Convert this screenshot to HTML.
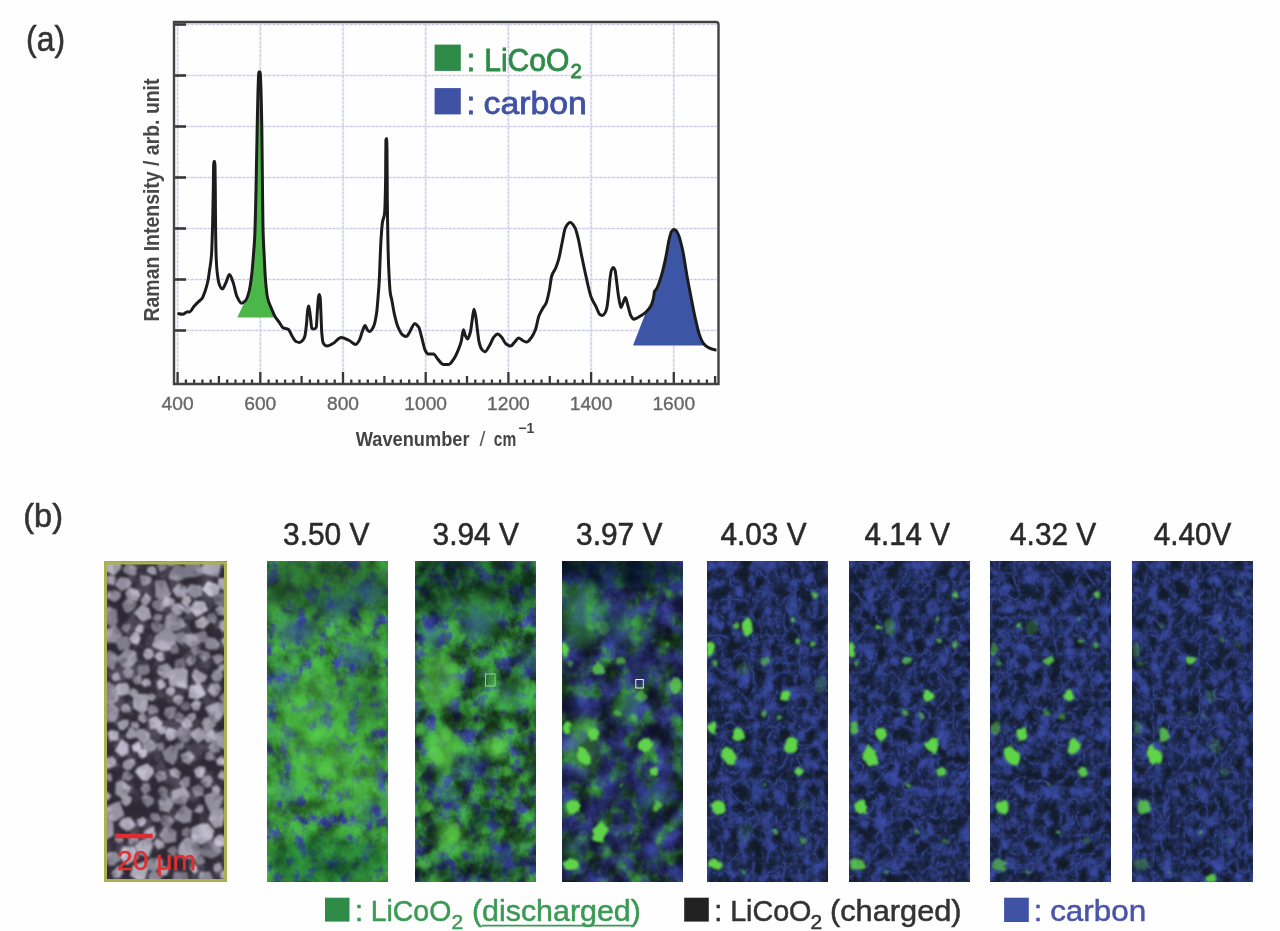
<!DOCTYPE html>
<html><head><meta charset="utf-8"><style>
html,body{margin:0;padding:0;background:#fff;}
svg{display:block;}
text{font-family:"Liberation Sans",sans-serif;}
.volt{font-size:30px;fill:#222;}
</style></head><body>
<svg width="1280" height="931" viewBox="0 0 1280 931">
<defs>
<filter id="f0" x="0" y="0" width="1" height="1" color-interpolation-filters="sRGB">
<feTurbulence type="fractalNoise" baseFrequency="0.075 0.07" numOctaves="4" seed="3" result="a0"/>
<feColorMatrix in="a0" type="matrix" values="1 0 0 0 0  0 1 0 0 0  0 0 1 0 0  0 0 0 0 1" result="a1"/>
<feComponentTransfer in="a1" result="tt"><feFuncR type="table" tableValues="0 0 0.06 0.55 0.93 1 1 1 1"/></feComponentTransfer>
<feColorMatrix in="tt" type="matrix" result="A" values="0.020 0 0 0 0.28  0.460 0 0 0 0.32  -0.500 0 0 0 0.78  0 0 0 0 1"/>
<feTurbulence type="fractalNoise" baseFrequency="0.055 0.05" numOctaves="5" seed="103" result="b0"/>
<feColorMatrix in="b0" type="matrix" values="1 0 0 0 0  0 1 0 0 0  0 0 1 0 0  0 0 0 0 1" result="b1"/>
<feComponentTransfer in="b1" result="vv"><feFuncG type="table" tableValues="0.46 0.46 0.5 0.64 0.77 0.88 0.95 1 1"/></feComponentTransfer>
<feColorMatrix in="vv" type="matrix" result="V" values="0 1 0 0 0  0 1 0 0 0  0 1 0 0 0  0 0 0 0 1"/>
<feComposite in="A" in2="V" operator="arithmetic" k1="1" k2="0" k3="0" k4="0"/>
</filter>
<filter id="f1" x="0" y="0" width="1" height="1" color-interpolation-filters="sRGB">
<feTurbulence type="fractalNoise" baseFrequency="0.08 0.07" numOctaves="4" seed="7" result="a0"/>
<feColorMatrix in="a0" type="matrix" values="1 0 0 0 0  0 1 0 0 0  0 0 1 0 0  0 0 0 0 1" result="a1"/>
<feComponentTransfer in="a1" result="tt"><feFuncR type="table" tableValues="0 0 0.05 0.35 0.85 1 1 1 1"/></feComponentTransfer>
<feColorMatrix in="tt" type="matrix" result="A" values="0.000 0 0 0 0.28  0.440 0 0 0 0.32  -0.480 0 0 0 0.78  0 0 0 0 1"/>
<feTurbulence type="fractalNoise" baseFrequency="0.05 0.045" numOctaves="5" seed="107" result="b0"/>
<feColorMatrix in="b0" type="matrix" values="1 0 0 0 0  0 1 0 0 0  0 0 1 0 0  0 0 0 0 1" result="b1"/>
<feComponentTransfer in="b1" result="vv"><feFuncG type="table" tableValues="0.25 0.25 0.28 0.42 0.62 0.8 0.92 1 1"/></feComponentTransfer>
<feColorMatrix in="vv" type="matrix" result="V" values="0 1 0 0 0  0 1 0 0 0  0 1 0 0 0  0 0 0 0 1"/>
<feComposite in="A" in2="V" operator="arithmetic" k1="1" k2="0" k3="0" k4="0"/>
</filter>
<filter id="f2" x="0" y="0" width="1" height="1" color-interpolation-filters="sRGB">
<feTurbulence type="fractalNoise" baseFrequency="0.07 0.06" numOctaves="4" seed="11" result="a0"/>
<feColorMatrix in="a0" type="matrix" values="1 0 0 0 0  0 1 0 0 0  0 0 1 0 0  0 0 0 0 1" result="a1"/>
<feComponentTransfer in="a1" result="tt"><feFuncR type="table" tableValues="0 0 0 0.02 0.2 0.6 0.9 1 1"/></feComponentTransfer>
<feColorMatrix in="tt" type="matrix" result="A" values="0.000 0 0 0 0.28  0.440 0 0 0 0.32  -0.480 0 0 0 0.78  0 0 0 0 1"/>
<feTurbulence type="fractalNoise" baseFrequency="0.045 0.04" numOctaves="5" seed="111" result="b0"/>
<feColorMatrix in="b0" type="matrix" values="1 0 0 0 0  0 1 0 0 0  0 0 1 0 0  0 0 0 0 1" result="b1"/>
<feComponentTransfer in="b1" result="vv"><feFuncG type="table" tableValues="0.2 0.2 0.22 0.33 0.5 0.68 0.82 0.92 1"/></feComponentTransfer>
<feColorMatrix in="vv" type="matrix" result="V" values="0 1 0 0 0  0 1 0 0 0  0 1 0 0 0  0 0 0 0 1"/>
<feComposite in="A" in2="V" operator="arithmetic" k1="1" k2="0" k3="0" k4="0"/>
</filter>
<filter id="f3" x="0" y="0" width="1" height="1" color-interpolation-filters="sRGB">
<feTurbulence type="turbulence" baseFrequency="0.065 0.055" numOctaves="4" seed="23" result="t0"/>
<feColorMatrix in="t0" type="matrix" values="1 0 0 0 0  0 1 0 0 0  0 0 1 0 0  0 0 0 0 1" result="t1"/>
<feComponentTransfer in="t1" result="T"><feFuncG type="table" tableValues="0.9 0.65 0.42 0.27 0.19 0.16 0.15 0.15 0.15"/></feComponentTransfer>
<feTurbulence type="fractalNoise" baseFrequency="0.08 0.07" numOctaves="4" seed="73" result="f0"/>
<feColorMatrix in="f0" type="matrix" values="1 0 0 0 0  0 1 0 0 0  0 0 1 0 0  0 0 0 0 1" result="f1"/>
<feComponentTransfer in="f1" result="F"><feFuncG type="table" tableValues="0.15 0.15 0.16 0.21 0.4 0.68 0.87 0.95 1"/></feComponentTransfer>
<feBlend in="T" in2="F" mode="lighten" result="V"/>
<feColorMatrix in="V" type="matrix" values="0 0.20 0 0 0.035  0 0.24 0 0 0.065  0 0.62 0 0 0.06  0 0 0 0 1"/>
</filter>
<filter id="f4" x="0" y="0" width="1" height="1" color-interpolation-filters="sRGB">
<feTurbulence type="turbulence" baseFrequency="0.065 0.055" numOctaves="4" seed="24" result="t0"/>
<feColorMatrix in="t0" type="matrix" values="1 0 0 0 0  0 1 0 0 0  0 0 1 0 0  0 0 0 0 1" result="t1"/>
<feComponentTransfer in="t1" result="T"><feFuncG type="table" tableValues="0.9 0.65 0.42 0.27 0.19 0.16 0.15 0.15 0.15"/></feComponentTransfer>
<feTurbulence type="fractalNoise" baseFrequency="0.08 0.07" numOctaves="4" seed="74" result="f0"/>
<feColorMatrix in="f0" type="matrix" values="1 0 0 0 0  0 1 0 0 0  0 0 1 0 0  0 0 0 0 1" result="f1"/>
<feComponentTransfer in="f1" result="F"><feFuncG type="table" tableValues="0.15 0.15 0.16 0.21 0.4 0.68 0.87 0.95 1"/></feComponentTransfer>
<feBlend in="T" in2="F" mode="lighten" result="V"/>
<feColorMatrix in="V" type="matrix" values="0 0.20 0 0 0.035  0 0.24 0 0 0.065  0 0.62 0 0 0.06  0 0 0 0 1"/>
</filter>
<filter id="f5" x="0" y="0" width="1" height="1" color-interpolation-filters="sRGB">
<feTurbulence type="turbulence" baseFrequency="0.065 0.055" numOctaves="4" seed="25" result="t0"/>
<feColorMatrix in="t0" type="matrix" values="1 0 0 0 0  0 1 0 0 0  0 0 1 0 0  0 0 0 0 1" result="t1"/>
<feComponentTransfer in="t1" result="T"><feFuncG type="table" tableValues="0.9 0.65 0.42 0.27 0.19 0.16 0.15 0.15 0.15"/></feComponentTransfer>
<feTurbulence type="fractalNoise" baseFrequency="0.08 0.07" numOctaves="4" seed="75" result="f0"/>
<feColorMatrix in="f0" type="matrix" values="1 0 0 0 0  0 1 0 0 0  0 0 1 0 0  0 0 0 0 1" result="f1"/>
<feComponentTransfer in="f1" result="F"><feFuncG type="table" tableValues="0.15 0.15 0.16 0.21 0.4 0.68 0.87 0.95 1"/></feComponentTransfer>
<feBlend in="T" in2="F" mode="lighten" result="V"/>
<feColorMatrix in="V" type="matrix" values="0 0.20 0 0 0.035  0 0.24 0 0 0.065  0 0.62 0 0 0.06  0 0 0 0 1"/>
</filter>
<filter id="f6" x="0" y="0" width="1" height="1" color-interpolation-filters="sRGB">
<feTurbulence type="turbulence" baseFrequency="0.065 0.055" numOctaves="4" seed="26" result="t0"/>
<feColorMatrix in="t0" type="matrix" values="1 0 0 0 0  0 1 0 0 0  0 0 1 0 0  0 0 0 0 1" result="t1"/>
<feComponentTransfer in="t1" result="T"><feFuncG type="table" tableValues="0.9 0.65 0.42 0.27 0.19 0.16 0.15 0.15 0.15"/></feComponentTransfer>
<feTurbulence type="fractalNoise" baseFrequency="0.08 0.07" numOctaves="4" seed="76" result="f0"/>
<feColorMatrix in="f0" type="matrix" values="1 0 0 0 0  0 1 0 0 0  0 0 1 0 0  0 0 0 0 1" result="f1"/>
<feComponentTransfer in="f1" result="F"><feFuncG type="table" tableValues="0.15 0.15 0.16 0.21 0.4 0.68 0.87 0.95 1"/></feComponentTransfer>
<feBlend in="T" in2="F" mode="lighten" result="V"/>
<feColorMatrix in="V" type="matrix" values="0 0.20 0 0 0.035  0 0.24 0 0 0.065  0 0.62 0 0 0.06  0 0 0 0 1"/>
</filter>
<filter id="fo" x="0" y="0" width="1" height="1" color-interpolation-filters="sRGB">
<feTurbulence type="fractalNoise" baseFrequency="0.055 0.05" numOctaves="3" seed="5" result="n0"/>
<feColorMatrix in="n0" type="matrix" values="1 0 0 0 0  0 1 0 0 0  0 0 1 0 0  0 0 0 0 1" result="n"/>
<feComponentTransfer in="n" result="tv"><feFuncR type="table" tableValues="0 0 0 0 0 0 0 0 0"/><feFuncG type="table" tableValues="0.21 0.21 0.21 0.23 0.32 0.62 0.74 0.8 0.82"/></feComponentTransfer>
<feColorMatrix in="tv" type="matrix" result="A" values="0.000 0 0 0 0.92  0.000 0 0 0 0.88  0.000 0 0 0 1.0  0 0 0 0 1"/>
<feColorMatrix in="tv" type="matrix" result="V" values="0 1 0 0 0  0 1 0 0 0  0 1 0 0 0  0 0 0 0 1"/>
<feComposite in="A" in2="V" operator="arithmetic" k1="1" k2="0" k3="0" k4="0"/>
</filter>
<clipPath id="copt"><rect x="104" y="561.5" width="123" height="320.5"/></clipPath>
<filter id="blur08"><feGaussianBlur stdDeviation="0.9"/></filter>
<filter id="blur5" x="-0.3" y="-0.3" width="1.6" height="1.6"><feGaussianBlur stdDeviation="5"/></filter>
<filter id="blur1" x="-0.1" y="-0.1" width="1.2" height="1.2"><feTurbulence type="fractalNoise" baseFrequency="0.12" numOctaves="2" seed="9" result="dn"/><feDisplacementMap in="SourceGraphic" in2="dn" scale="7" xChannelSelector="R" yChannelSelector="G" result="dd"/><feGaussianBlur in="dd" stdDeviation="1.1"/></filter>
<clipPath id="c0"><rect x="267.3" y="561.5" width="120.5" height="320.5"/></clipPath>
<clipPath id="c1"><rect x="415" y="561.5" width="120.5" height="320.5"/></clipPath>
<clipPath id="c2"><rect x="562" y="561.5" width="120.5" height="320.5"/></clipPath>
<clipPath id="c3"><rect x="707.2" y="561.5" width="120.5" height="320.5"/></clipPath>
<clipPath id="c4"><rect x="849" y="561.5" width="120.5" height="320.5"/></clipPath>
<clipPath id="c5"><rect x="990.5" y="561.5" width="120.5" height="320.5"/></clipPath>
<clipPath id="c6"><rect x="1132.5" y="561.5" width="120.5" height="320.5"/></clipPath>
</defs>
<rect width="1280" height="931" fill="#fefefe"/>
<g stroke="#ececf6" stroke-width="2.2" fill="none">
<line x1="177.6" y1="24" x2="177.6" y2="383" />
<line x1="260.3" y1="24" x2="260.3" y2="383" />
<line x1="343.0" y1="24" x2="343.0" y2="383" />
<line x1="425.7" y1="24" x2="425.7" y2="383" />
<line x1="508.4" y1="24" x2="508.4" y2="383" />
<line x1="591.1" y1="24" x2="591.1" y2="383" />
<line x1="673.8" y1="24" x2="673.8" y2="383" />
<line x1="178" y1="24.5" x2="717" y2="24.5" />
<line x1="178" y1="75.5" x2="717" y2="75.5" />
<line x1="178" y1="126.5" x2="717" y2="126.5" />
<line x1="178" y1="177.5" x2="717" y2="177.5" />
<line x1="178" y1="228.5" x2="717" y2="228.5" />
<line x1="178" y1="279.5" x2="717" y2="279.5" />
<line x1="178" y1="330.5" x2="717" y2="330.5" />
</g>
<g stroke="#c8c8e6" stroke-width="1.1" stroke-dasharray="2.5,1.8" fill="none">
<line x1="177.6" y1="24" x2="177.6" y2="383" />
<line x1="260.3" y1="24" x2="260.3" y2="383" />
<line x1="343.0" y1="24" x2="343.0" y2="383" />
<line x1="425.7" y1="24" x2="425.7" y2="383" />
<line x1="508.4" y1="24" x2="508.4" y2="383" />
<line x1="591.1" y1="24" x2="591.1" y2="383" />
<line x1="673.8" y1="24" x2="673.8" y2="383" />
<line x1="178" y1="24.5" x2="717" y2="24.5" />
<line x1="178" y1="75.5" x2="717" y2="75.5" />
<line x1="178" y1="126.5" x2="717" y2="126.5" />
<line x1="178" y1="177.5" x2="717" y2="177.5" />
<line x1="178" y1="228.5" x2="717" y2="228.5" />
<line x1="178" y1="279.5" x2="717" y2="279.5" />
<line x1="178" y1="330.5" x2="717" y2="330.5" />
</g>
<g stroke="#383838" stroke-width="2.3">
<line x1="177.6" y1="384" x2="177.6" y2="372" />
<line x1="185.9" y1="384" x2="185.9" y2="379.5" />
<line x1="194.1" y1="384" x2="194.1" y2="379.5" />
<line x1="202.4" y1="384" x2="202.4" y2="379.5" />
<line x1="210.7" y1="384" x2="210.7" y2="379.5" />
<line x1="218.9" y1="384" x2="218.9" y2="376" />
<line x1="227.2" y1="384" x2="227.2" y2="379.5" />
<line x1="235.5" y1="384" x2="235.5" y2="379.5" />
<line x1="243.8" y1="384" x2="243.8" y2="379.5" />
<line x1="252.0" y1="384" x2="252.0" y2="379.5" />
<line x1="260.3" y1="384" x2="260.3" y2="372" />
<line x1="268.6" y1="384" x2="268.6" y2="379.5" />
<line x1="276.8" y1="384" x2="276.8" y2="379.5" />
<line x1="285.1" y1="384" x2="285.1" y2="379.5" />
<line x1="293.4" y1="384" x2="293.4" y2="379.5" />
<line x1="301.6" y1="384" x2="301.6" y2="376" />
<line x1="309.9" y1="384" x2="309.9" y2="379.5" />
<line x1="318.2" y1="384" x2="318.2" y2="379.5" />
<line x1="326.5" y1="384" x2="326.5" y2="379.5" />
<line x1="334.7" y1="384" x2="334.7" y2="379.5" />
<line x1="343.0" y1="384" x2="343.0" y2="372" />
<line x1="351.3" y1="384" x2="351.3" y2="379.5" />
<line x1="359.5" y1="384" x2="359.5" y2="379.5" />
<line x1="367.8" y1="384" x2="367.8" y2="379.5" />
<line x1="376.1" y1="384" x2="376.1" y2="379.5" />
<line x1="384.4" y1="384" x2="384.4" y2="376" />
<line x1="392.6" y1="384" x2="392.6" y2="379.5" />
<line x1="400.9" y1="384" x2="400.9" y2="379.5" />
<line x1="409.2" y1="384" x2="409.2" y2="379.5" />
<line x1="417.4" y1="384" x2="417.4" y2="379.5" />
<line x1="425.7" y1="384" x2="425.7" y2="372" />
<line x1="434.0" y1="384" x2="434.0" y2="379.5" />
<line x1="442.2" y1="384" x2="442.2" y2="379.5" />
<line x1="450.5" y1="384" x2="450.5" y2="379.5" />
<line x1="458.8" y1="384" x2="458.8" y2="379.5" />
<line x1="467.0" y1="384" x2="467.0" y2="376" />
<line x1="475.3" y1="384" x2="475.3" y2="379.5" />
<line x1="483.6" y1="384" x2="483.6" y2="379.5" />
<line x1="491.9" y1="384" x2="491.9" y2="379.5" />
<line x1="500.1" y1="384" x2="500.1" y2="379.5" />
<line x1="508.4" y1="384" x2="508.4" y2="372" />
<line x1="516.7" y1="384" x2="516.7" y2="379.5" />
<line x1="524.9" y1="384" x2="524.9" y2="379.5" />
<line x1="533.2" y1="384" x2="533.2" y2="379.5" />
<line x1="541.5" y1="384" x2="541.5" y2="379.5" />
<line x1="549.8" y1="384" x2="549.8" y2="376" />
<line x1="558.0" y1="384" x2="558.0" y2="379.5" />
<line x1="566.3" y1="384" x2="566.3" y2="379.5" />
<line x1="574.6" y1="384" x2="574.6" y2="379.5" />
<line x1="582.8" y1="384" x2="582.8" y2="379.5" />
<line x1="591.1" y1="384" x2="591.1" y2="372" />
<line x1="599.4" y1="384" x2="599.4" y2="379.5" />
<line x1="607.6" y1="384" x2="607.6" y2="379.5" />
<line x1="615.9" y1="384" x2="615.9" y2="379.5" />
<line x1="624.2" y1="384" x2="624.2" y2="379.5" />
<line x1="632.4" y1="384" x2="632.4" y2="376" />
<line x1="640.7" y1="384" x2="640.7" y2="379.5" />
<line x1="649.0" y1="384" x2="649.0" y2="379.5" />
<line x1="657.3" y1="384" x2="657.3" y2="379.5" />
<line x1="665.5" y1="384" x2="665.5" y2="379.5" />
<line x1="673.8" y1="384" x2="673.8" y2="372" />
<line x1="682.1" y1="384" x2="682.1" y2="379.5" />
<line x1="690.3" y1="384" x2="690.3" y2="379.5" />
<line x1="698.6" y1="384" x2="698.6" y2="379.5" />
<line x1="706.9" y1="384" x2="706.9" y2="379.5" />
<line x1="715.1" y1="384" x2="715.1" y2="376" />
<line x1="174" y1="24.5" x2="186" y2="24.5" stroke-width="2.6"/>
<line x1="174" y1="75.5" x2="186" y2="75.5" stroke-width="2.6"/>
<line x1="174" y1="126.5" x2="186" y2="126.5" stroke-width="2.6"/>
<line x1="174" y1="177.5" x2="186" y2="177.5" stroke-width="2.6"/>
<line x1="174" y1="228.5" x2="186" y2="228.5" stroke-width="2.6"/>
<line x1="174" y1="279.5" x2="186" y2="279.5" stroke-width="2.6"/>
<line x1="174" y1="330.5" x2="186" y2="330.5" stroke-width="2.6"/>
</g>
<path d="M237.3,317.4 L244.9,301.2 L245.3,300.9 L245.6,300.5 L245.9,300.1 L246.2,299.6 L246.5,299.1 L246.8,298.4 L247.1,297.7 L247.5,296.8 L247.8,295.9 L248.1,295.0 L248.4,293.9 L248.7,292.8 L249.0,291.7 L249.3,290.5 L249.5,289.6 L249.7,288.6 L249.9,287.5 L250.1,286.4 L250.3,285.1 L250.5,283.7 L250.8,282.3 L251.0,280.7 L251.2,279.1 L251.4,277.5 L251.6,275.8 L251.8,274.0 L251.9,273.0 L252.0,271.8 L252.2,270.6 L252.3,269.4 L252.4,268.1 L252.5,266.7 L252.6,265.3 L252.7,263.9 L252.8,262.4 L253.0,261.0 L253.1,259.5 L253.2,258.0 L253.3,256.3 L253.5,254.7 L253.6,253.1 L253.7,251.5 L253.9,249.9 L254.0,248.2 L254.1,246.4 L254.3,244.5 L254.4,242.4 L254.5,240.2 L254.7,237.7 L254.8,235.0 L254.9,232.7 L255.0,229.9 L255.1,226.8 L255.2,223.4 L255.3,219.8 L255.4,215.9 L255.5,211.8 L255.6,207.6 L255.7,203.2 L255.8,198.8 L255.9,194.4 L256.0,190.0 L256.1,185.4 L256.2,180.5 L256.3,175.4 L256.4,170.0 L256.5,164.4 L256.6,158.8 L256.7,153.2 L256.8,147.6 L256.9,142.1 L257.0,136.8 L257.1,131.8 L257.2,127.0 L257.3,122.7 L257.4,118.4 L257.5,114.0 L257.6,109.7 L257.7,105.4 L257.8,101.3 L257.8,97.4 L257.9,93.6 L258.0,90.2 L258.1,87.1 L258.2,84.3 L258.3,82.0 L258.3,80.8 L258.4,79.7 L258.4,78.5 L258.5,77.4 L258.5,76.3 L258.6,75.3 L258.6,74.4 L258.7,73.6 L258.8,72.9 L258.8,72.4 L258.8,72.1 L258.9,72.0 L259.0,72.0 L259.1,72.0 L259.2,72.0 L259.3,72.0 L259.4,72.0 L259.5,72.0 L259.6,72.0 L259.7,72.0 L259.8,72.0 L259.9,72.0 L260.0,72.0 L260.1,72.0 L260.2,72.1 L260.2,72.4 L260.3,72.9 L260.3,73.6 L260.3,74.4 L260.4,75.3 L260.5,76.3 L260.5,77.4 L260.5,78.5 L260.6,79.7 L260.6,80.8 L260.7,82.0 L260.8,84.2 L260.9,86.8 L261.0,89.6 L261.1,92.7 L261.2,96.0 L261.2,99.7 L261.3,103.6 L261.4,107.8 L261.5,112.2 L261.6,116.9 L261.7,121.8 L261.8,127.0 L261.9,130.7 L261.9,135.0 L262.0,139.8 L262.0,145.1 L262.1,150.6 L262.1,156.4 L262.2,162.3 L262.3,168.2 L262.3,174.0 L262.4,179.6 L262.4,185.0 L262.5,190.0 L262.5,193.5 L262.6,197.1 L262.6,200.8 L262.7,204.5 L262.7,208.2 L262.8,211.7 L262.8,215.1 L262.8,218.3 L262.9,221.3 L262.9,223.9 L263.0,226.2 L263.0,228.0 L263.1,231.6 L263.2,234.8 L263.3,237.7 L263.4,240.3 L263.5,242.6 L263.6,244.7 L263.7,246.6 L263.8,248.5 L263.9,250.3 L264.0,252.1 L264.1,254.0 L264.2,256.0 L264.3,258.3 L264.4,260.5 L264.5,262.8 L264.6,265.0 L264.7,267.2 L264.9,269.4 L265.0,271.5 L265.1,273.4 L265.2,275.3 L265.3,277.0 L265.4,278.6 L265.5,280.0 L265.7,282.1 L265.9,284.1 L266.0,285.9 L266.2,287.7 L266.4,289.4 L266.6,291.0 L266.7,292.5 L266.9,293.9 L267.1,295.1 L267.3,296.2 L267.4,297.2 L267.6,298.0 L267.9,299.3 L268.3,300.5 L268.6,301.6 L268.9,302.5 L269.2,303.4 L269.6,304.2 L269.9,304.9 L270.2,305.6 L270.5,306.3 L270.9,307.0 L271.2,307.7 L271.5,308.5 L271.8,309.2 L272.1,310.0 L272.4,310.7 L272.7,311.4 L273.0,312.1 L273.2,312.8 L273.5,313.5 L273.8,314.2 L274.1,314.8 L274.4,315.4 L274.7,316.0 L275.0,316.5 L275.3,317.1 L275.7,317.4 Z" fill="#4bb748"/>
<path d="M633.0,345.5 L646.0,312.0 L646.4,311.6 L646.8,311.2 L647.2,310.8 L647.6,310.4 L648.0,310.0 L648.4,309.5 L648.8,309.0 L649.2,308.5 L649.6,308.0 L650.0,307.4 L650.4,306.7 L650.8,306.0 L651.0,305.6 L651.2,305.1 L651.5,304.6 L651.7,304.1 L651.9,303.5 L652.1,302.8 L652.4,302.2 L652.6,301.4 L652.8,300.7 L653.0,299.8 L653.3,298.9 L653.5,298.0 L653.6,297.6 L653.7,297.1 L653.8,296.5 L653.8,295.8 L653.9,295.2 L654.0,294.5 L654.1,293.8 L654.2,293.2 L654.2,292.6 L654.3,292.1 L654.4,291.8 L654.5,291.5 L654.7,291.2 L654.8,290.9 L655.0,290.6 L655.2,290.4 L655.3,290.2 L655.5,290.1 L655.7,289.9 L655.8,289.8 L656.0,289.6 L656.2,289.5 L656.3,289.2 L656.5,289.0 L656.7,288.6 L656.9,288.2 L657.1,287.8 L657.3,287.3 L657.5,286.9 L657.8,286.3 L658.0,285.8 L658.2,285.3 L658.4,284.7 L658.6,284.1 L658.8,283.6 L659.0,283.0 L659.3,282.2 L659.6,281.3 L659.9,280.4 L660.2,279.5 L660.5,278.6 L660.8,277.6 L661.1,276.6 L661.4,275.6 L661.7,274.6 L662.0,273.5 L662.3,272.4 L662.6,271.3 L662.9,270.2 L663.2,269.0 L663.5,267.9 L663.8,266.6 L664.1,265.4 L664.4,264.1 L664.6,262.8 L664.9,261.5 L665.2,260.1 L665.5,258.7 L665.8,257.3 L666.1,255.9 L666.3,254.7 L666.6,253.4 L666.8,252.0 L667.1,250.6 L667.3,249.1 L667.5,247.7 L667.8,246.3 L668.0,244.9 L668.3,243.5 L668.5,242.2 L668.8,241.1 L669.0,240.0 L669.2,239.1 L669.4,238.3 L669.6,237.4 L669.8,236.5 L670.0,235.7 L670.2,234.9 L670.5,234.2 L670.7,233.5 L670.9,232.9 L671.1,232.3 L671.3,231.9 L671.5,231.5 L671.7,231.2 L671.8,231.0 L672.0,230.7 L672.2,230.5 L672.3,230.3 L672.5,230.1 L672.7,229.9 L672.8,229.7 L673.0,229.6 L673.2,229.5 L673.3,229.4 L673.5,229.4 L673.7,229.4 L673.9,229.4 L674.1,229.5 L674.3,229.6 L674.5,229.6 L674.8,229.7 L675.0,229.8 L675.2,230.0 L675.4,230.1 L675.6,230.2 L675.8,230.4 L676.0,230.5 L676.2,230.7 L676.4,230.9 L676.6,231.2 L676.8,231.5 L677.0,231.8 L677.2,232.2 L677.5,232.7 L677.7,233.1 L677.9,233.6 L678.1,234.0 L678.3,234.5 L678.5,235.0 L678.8,235.8 L679.2,236.7 L679.5,237.7 L679.8,238.8 L680.2,240.0 L680.5,241.2 L680.8,242.5 L681.2,243.8 L681.5,245.2 L681.8,246.6 L682.2,248.0 L682.5,249.5 L682.9,251.3 L683.2,253.2 L683.6,255.3 L684.0,257.5 L684.4,259.8 L684.8,262.1 L685.1,264.5 L685.5,266.9 L685.9,269.3 L686.2,271.6 L686.6,273.9 L687.0,276.0 L687.3,277.8 L687.7,279.6 L688.0,281.4 L688.3,283.2 L688.7,285.0 L689.0,286.7 L689.3,288.4 L689.7,290.2 L690.0,291.9 L690.3,293.6 L690.7,295.3 L691.0,297.0 L691.3,298.7 L691.7,300.4 L692.0,302.2 L692.3,303.9 L692.7,305.6 L693.0,307.3 L693.3,309.0 L693.7,310.7 L694.0,312.3 L694.3,313.9 L694.7,315.5 L695.0,317.0 L695.4,318.7 L695.8,320.4 L696.1,322.0 L696.5,323.7 L696.9,325.4 L697.2,327.0 L697.6,328.5 L698.0,330.0 L698.4,331.4 L698.8,332.7 L699.1,333.9 L699.5,335.0 L699.8,335.9 L700.2,336.8 L700.5,337.7 L700.8,338.5 L701.2,339.3 L701.5,340.0 L701.8,340.7 L702.2,341.4 L702.5,342.0 L702.8,342.6 L703.2,343.1 L703.5,343.5 L703.9,344.0 L704.3,344.5 L704.8,344.9 L705.2,345.3 L705.6,345.5 Z" fill="#3d55a5"/>
<path d="M177.50,313.50 C179.23,313.77 180.97,314.30 182.70,314.30 C184.33,314.30 185.97,311.80 187.60,311.80 C188.23,311.80 188.87,312.00 189.50,312.00 C191.10,312.00 192.70,307.80 194.30,306.00 C195.60,304.54 196.90,303.28 198.20,302.00 C199.50,300.72 200.80,300.09 202.10,298.30 C203.07,296.97 204.03,294.25 205.00,291.50 C205.97,288.75 206.93,285.60 207.90,281.00 C208.47,278.30 209.03,274.02 209.60,270.00 C210.23,265.50 210.87,263.15 211.50,255.00 C211.87,250.28 212.23,238.23 212.60,225.00 C212.83,216.58 213.07,204.81 213.30,190.00 C213.40,183.65 213.50,168.53 213.60,166.00 C213.70,163.47 213.80,161.50 213.90,161.50 C214.17,161.50 214.43,161.50 214.70,161.50 C214.80,161.50 214.90,163.47 215.00,166.00 C215.10,168.53 215.20,180.00 215.30,190.00 C215.40,200.00 215.50,222.70 215.60,230.00 C215.80,244.61 216.00,253.61 216.20,258.00 C216.63,267.51 217.07,271.76 217.50,275.00 C218.17,279.98 218.83,283.43 219.50,285.00 C220.40,287.11 221.30,289.00 222.20,289.00 C223.40,289.00 224.60,285.34 225.80,283.00 C227.00,280.66 228.20,274.50 229.40,274.50 C230.60,274.50 231.80,278.81 233.00,282.00 C234.30,285.46 235.60,293.75 236.90,296.50 C238.43,299.75 239.97,303.20 241.50,303.20 C242.87,303.20 244.23,301.96 245.60,300.50 C246.83,299.18 248.07,295.36 249.30,290.50 C250.13,287.22 250.97,281.15 251.80,274.00 C252.27,269.99 252.73,263.93 253.20,258.00 C253.73,251.23 254.27,246.32 254.80,235.00 C255.20,226.51 255.60,207.50 256.00,190.00 C256.40,172.50 256.80,145.36 257.20,127.00 C257.57,110.17 257.93,90.34 258.30,82.00 C258.50,77.45 258.70,72.00 258.90,72.00 C259.30,72.00 259.70,72.00 260.10,72.00 C260.30,72.00 260.50,77.45 260.70,82.00 C261.07,90.34 261.43,105.79 261.80,127.00 C262.03,140.50 262.27,170.86 262.50,190.00 C262.67,203.67 262.83,221.58 263.00,228.00 C263.40,243.40 263.80,247.74 264.20,256.00 C264.63,264.95 265.07,274.78 265.50,280.00 C266.20,288.44 266.90,294.97 267.60,298.00 C268.90,303.62 270.20,305.29 271.50,308.50 C272.67,311.38 273.83,314.49 275.00,316.50 C276.33,318.80 277.67,320.16 279.00,322.00 C280.40,323.93 281.80,327.11 283.20,327.80 C284.90,328.64 286.60,328.41 288.30,329.30 C289.63,329.99 290.97,334.45 292.30,336.50 C293.53,338.40 294.77,340.92 296.00,341.50 C297.17,342.05 298.33,342.50 299.50,342.50 C300.67,342.50 301.83,341.31 303.00,340.00 C303.63,339.29 304.27,338.12 304.90,336.00 C305.43,334.22 305.97,328.92 306.50,324.00 C306.90,320.31 307.30,312.52 307.70,310.00 C308.00,308.11 308.30,306.00 308.60,306.00 C308.90,306.00 309.20,308.32 309.50,310.00 C309.87,312.06 310.23,315.66 310.60,318.60 C311.00,321.81 311.40,328.30 311.80,328.50 C312.53,328.86 313.27,329.00 314.00,329.00 C314.73,329.00 315.47,328.56 316.20,327.50 C316.57,326.97 316.93,316.86 317.30,312.00 C317.70,306.70 318.10,298.92 318.50,297.00 C318.77,295.72 319.03,294.50 319.30,294.50 C319.60,294.50 319.90,296.00 320.20,298.00 C320.47,299.78 320.73,309.17 321.00,315.00 C321.27,320.83 321.53,329.97 321.80,333.00 C322.27,338.31 322.73,342.23 323.20,343.00 C324.43,345.04 325.67,346.00 326.90,346.00 C328.93,346.00 330.97,344.56 333.00,343.50 C335.70,342.09 338.40,337.50 341.10,337.50 C343.80,337.50 346.50,339.25 349.20,340.50 C351.40,341.52 353.60,344.50 355.80,344.50 C357.00,344.50 358.20,342.12 359.40,340.00 C360.43,338.18 361.47,333.57 362.50,331.00 C363.33,328.92 364.17,325.50 365.00,325.50 C365.83,325.50 366.67,329.13 367.50,330.00 C368.17,330.70 368.83,331.50 369.50,331.50 C370.87,331.50 372.23,329.20 373.60,326.50 C374.60,324.52 375.60,319.67 376.60,313.00 C377.07,309.89 377.53,303.65 378.00,298.00 C378.43,292.76 378.87,288.04 379.30,280.00 C379.53,275.67 379.77,267.56 380.00,262.00 C380.33,254.06 380.67,245.28 381.00,240.00 C381.50,232.08 382.00,225.07 382.50,222.00 C383.17,217.90 383.83,219.10 384.50,214.00 C384.87,211.19 385.23,200.88 385.60,180.00 C385.70,174.31 385.80,140.48 385.90,140.00 C386.13,138.87 386.37,138.50 386.60,138.50 C386.73,138.50 386.87,143.23 387.00,150.00 C387.10,155.07 387.20,189.81 387.30,200.00 C387.40,210.19 387.50,215.52 387.60,222.00 C387.73,230.64 387.87,239.42 388.00,245.00 C388.27,256.17 388.53,264.32 388.80,270.00 C389.30,280.66 389.80,289.42 390.30,293.00 C390.80,296.58 391.30,297.48 391.80,300.00 C392.57,303.87 393.33,309.34 394.10,312.80 C395.33,318.37 396.57,323.49 397.80,326.50 C399.33,330.24 400.87,333.58 402.40,334.70 C403.77,335.69 405.13,336.60 406.50,336.60 C407.57,336.60 408.63,333.63 409.70,332.00 C411.37,329.46 413.03,323.80 414.70,323.80 C416.07,323.80 417.43,325.41 418.80,327.40 C419.70,328.71 420.60,333.41 421.50,336.60 C422.73,340.97 423.97,347.94 425.20,350.30 C426.10,352.02 427.00,353.90 427.90,353.90 C429.73,353.90 431.57,353.90 433.40,353.90 C434.93,353.90 436.47,357.79 438.00,359.40 C439.80,361.28 441.60,364.40 443.40,364.40 C445.23,364.40 447.07,364.40 448.90,364.40 C450.43,364.40 451.97,361.55 453.50,359.40 C455.03,357.25 456.57,353.93 458.10,350.30 C459.17,347.77 460.23,345.20 461.30,341.10 C462.00,338.41 462.70,329.70 463.40,329.70 C464.07,329.70 464.73,334.39 465.40,335.70 C466.13,337.14 466.87,338.90 467.60,338.90 C468.53,338.90 469.47,335.47 470.40,332.00 C471.00,329.77 471.60,323.89 472.20,320.10 C472.80,316.31 473.40,309.20 474.00,309.20 C474.63,309.20 475.27,313.70 475.90,317.40 C476.33,319.93 476.77,325.01 477.20,328.40 C477.83,333.36 478.47,339.54 479.10,342.10 C480.00,345.74 480.90,348.28 481.80,349.40 C482.80,350.65 483.80,351.80 484.80,351.80 C486.43,351.80 488.07,347.92 489.70,345.30 C491.03,343.16 492.37,338.86 493.70,337.30 C495.03,335.74 496.37,334.00 497.70,334.00 C499.03,334.00 500.37,335.86 501.70,337.30 C503.07,338.77 504.43,342.65 505.80,343.70 C507.40,344.93 509.00,346.10 510.60,346.10 C511.93,346.10 513.27,343.42 514.60,342.10 C515.97,340.75 517.33,338.10 518.70,338.10 C520.03,338.10 521.37,339.86 522.70,340.50 C524.03,341.14 525.37,342.10 526.70,342.10 C528.30,342.10 529.90,339.44 531.50,337.30 C532.87,335.47 534.23,332.88 535.60,329.20 C536.67,326.33 537.73,319.19 538.80,316.30 C540.13,312.69 541.47,310.60 542.80,308.30 C543.87,306.46 544.93,305.74 546.00,303.40 C547.10,300.98 548.20,295.78 549.30,290.50 C550.10,286.66 550.90,278.51 551.70,276.00 C553.03,271.82 554.37,271.24 555.70,268.00 C556.77,265.41 557.83,262.28 558.90,258.30 C560.00,254.19 561.10,247.37 562.20,242.20 C563.27,237.19 564.33,229.62 565.40,227.70 C567.00,224.83 568.60,222.60 570.20,222.60 C571.80,222.60 573.40,225.02 575.00,227.70 C576.10,229.54 577.20,234.51 578.30,239.00 C579.37,243.35 580.43,249.90 581.50,255.10 C583.10,262.90 584.70,270.76 586.30,277.70 C587.90,284.64 589.50,292.78 591.10,297.00 C592.73,301.31 594.37,303.35 596.00,306.60 C597.33,309.26 598.67,314.00 600.00,314.70 C600.83,315.14 601.67,315.50 602.50,315.50 C603.33,315.50 604.17,314.26 605.00,313.00 C605.60,312.09 606.20,310.46 606.80,308.00 C607.37,305.68 607.93,300.05 608.50,295.00 C609.03,290.25 609.57,281.94 610.10,278.00 C610.57,274.55 611.03,271.07 611.50,270.00 C612.10,268.62 612.70,267.50 613.30,267.50 C613.87,267.50 614.43,268.58 615.00,270.00 C615.40,271.00 615.80,275.14 616.20,278.00 C616.97,283.47 617.73,291.54 618.50,296.00 C619.33,300.85 620.17,307.50 621.00,307.50 C621.67,307.50 622.33,304.51 623.00,303.00 C623.80,301.18 624.60,297.50 625.40,297.50 C626.27,297.50 627.13,303.14 628.00,306.00 C629.00,309.30 630.00,314.27 631.00,316.00 C631.90,317.56 632.80,319.20 633.70,319.20 C634.80,319.20 635.90,318.49 637.00,318.00 C638.43,317.37 639.87,316.43 641.30,315.50 C642.87,314.48 644.43,313.46 646.00,312.00 C647.60,310.51 649.20,308.92 650.80,306.00 C651.70,304.36 652.60,301.89 653.50,298.00 C653.83,296.56 654.17,292.26 654.50,291.50 C655.17,289.99 655.83,290.08 656.50,289.00 C657.33,287.65 658.17,285.28 659.00,283.00 C660.20,279.72 661.40,275.79 662.60,271.30 C663.77,266.94 664.93,261.62 666.10,255.90 C667.07,251.16 668.03,244.03 669.00,240.00 C669.83,236.52 670.67,232.81 671.50,231.50 C672.17,230.45 672.83,229.40 673.50,229.40 C674.33,229.40 675.17,229.91 676.00,230.50 C676.83,231.09 677.67,233.05 678.50,235.00 C679.83,238.13 681.17,243.54 682.50,249.50 C684.00,256.20 685.50,267.68 687.00,276.00 C688.33,283.39 689.67,290.17 691.00,297.00 C692.33,303.83 693.67,311.06 695.00,317.00 C696.50,323.68 698.00,330.86 699.50,335.00 C700.83,338.68 702.17,341.87 703.50,343.50 C705.17,345.54 706.83,346.87 708.50,347.70 C710.53,348.71 712.57,349.50 714.60,349.80 C715.23,349.89 715.87,349.93 716.50,350.00" fill="none" stroke="#1c1c1c" stroke-width="3" stroke-linejoin="round"/>
<path d="M174,384 L174,22 L716,22 Q718.5,22 718.5,24.5 L718.5,384 Z" fill="none" stroke="#424242" stroke-width="2.4"/>
<g font-size="19.2" fill="#666" stroke="#666" stroke-width="0.35">
<text x="177.6" y="410" text-anchor="middle">400</text>
<text x="260.3" y="410" text-anchor="middle">600</text>
<text x="343.0" y="410" text-anchor="middle">800</text>
<text x="425.7" y="410" text-anchor="middle">1000</text>
<text x="508.4" y="410" text-anchor="middle">1200</text>
<text x="591.1" y="410" text-anchor="middle">1400</text>
<text x="673.8" y="410" text-anchor="middle">1600</text>
</g>
<text transform="translate(159.4,321.5) rotate(-90)" font-size="22.5" font-weight="bold" fill="#484848" textLength="243" lengthAdjust="spacingAndGlyphs">Raman Intensity / arb. unit</text>
<rect x="434.6" y="44.6" width="26.2" height="26.3" fill="#2e8b48"/>
<rect x="434.6" y="88.1" width="26.2" height="26.3" fill="#3f52a4"/>
<rect x="104" y="561.5" width="123" height="320.5" fill="#2c2633"/><g clip-path="url(#copt)" filter="url(#blur08)"><polygon points="136.7,601.5 127.7,598.9 125.1,592.5 129.7,587.7 138.3,590.2 140.6,595.3" fill="#c1bfcf"/>
<polygon points="127.7,598.9 125.1,592.5 133.0,594.6" fill="#a5a3b1" fill-opacity="0.7"/>
<polygon points="129.7,587.5 120.9,591.2 115.8,585.6 117.4,579.5 121.0,576.9 129.1,578.3 131.5,582.8" fill="#b1afbf"/>
<polygon points="208.7,819.3 211.2,810.4 222.8,807.5 225.1,815.3 222.7,826.2 214.4,828.3" fill="#c1bfcf"/>
<polygon points="135.3,729.7 137.4,736.9 129.0,739.2 125.2,736.2 129.7,726.7" fill="#c2c0d0"/>
<polygon points="203.6,616.1 210.0,622.6 203.6,629.0 196.3,627.5 195.0,621.2" fill="#d5d3e3"/>
<polygon points="196.3,627.5 195.0,621.2 202.5,623.5" fill="#acaab8" fill-opacity="0.7"/>
<polygon points="185.4,804.7 171.5,802.6 171.5,791.0 185.0,786.3 189.8,795.1" fill="#acaaba"/>
<polygon points="185.4,804.7 171.5,802.6 181.1,796.1" fill="#898795" fill-opacity="0.7"/>
<polygon points="209.1,596.5 201.9,589.4 207.8,580.8 221.2,586.3 217.8,596.1" fill="#d7d5e5"/>
<polygon points="185.2,717.1 190.7,721.0 192.5,726.4 184.9,730.2 180.5,723.2" fill="#ceccdc"/>
<polygon points="190.7,721.0 192.5,726.4 186.6,723.7" fill="#b0aebc" fill-opacity="0.7"/>
<polygon points="165.1,579.8 171.5,594.2 162.2,601.6 155.2,596.4 155.1,580.8" fill="#aeacbc"/>
<polygon points="155.1,580.8 165.1,579.8 162.3,590.1" fill="#848290" fill-opacity="0.7"/>
<polygon points="217.3,736.6 215.0,741.7 206.9,742.4 203.2,737.6 206.9,731.4 212.9,729.1" fill="#bebccc"/>
<polygon points="215.0,741.7 206.9,742.4 210.5,737.0" fill="#848290" fill-opacity="0.7"/>
<polygon points="204.2,717.8 210.1,716.9 216.6,724.9 213.5,727.8 208.0,732.7 203.8,730.5 201.3,722.8" fill="#aaa8b8"/>
<polygon points="178.7,706.1 172.7,701.1 174.0,696.0 179.0,694.8 183.9,697.1 181.5,703.6" fill="#b1afbf"/>
<polygon points="178.7,706.1 172.7,701.1 177.7,699.6" fill="#8f8d9b" fill-opacity="0.7"/>
<polygon points="140.8,827.0 137.9,825.0 137.5,820.0 143.0,816.6 146.9,820.3 144.6,824.4" fill="#cbc9d9"/>
<polygon points="137.9,825.0 137.5,820.0 141.5,821.9" fill="#9593a1" fill-opacity="0.7"/>
<polygon points="103.2,761.3 105.6,758.5 113.0,756.0 115.7,760.1 116.3,765.1 110.2,768.5 104.4,767.7" fill="#c4c2d2"/>
<polygon points="116.3,765.1 110.2,768.5 109.7,762.2" fill="#a3a1af" fill-opacity="0.7"/>
<polygon points="174.5,717.8 168.7,719.4 164.0,714.4 165.2,708.1 171.9,706.2 176.5,707.6" fill="#9d9bab"/>
<polygon points="168.7,719.4 164.0,714.4 169.8,712.5" fill="#747280" fill-opacity="0.7"/>
<polygon points="218.8,627.6 220.1,621.3 229.3,618.4 233.5,621.0 231.2,629.2 222.7,631.9" fill="#a7a5b5"/>
<polygon points="126.5,770.3 123.0,767.8 122.7,762.3 129.2,758.5 134.7,759.3 135.8,764.0 130.7,769.8" fill="#bab8c8"/>
<polygon points="153.9,798.4 153.7,803.6 147.3,807.8 142.2,801.3 141.6,796.2 147.0,794.2" fill="#9795a5"/>
<polygon points="142.2,801.3 141.6,796.2 147.8,800.9" fill="#767482" fill-opacity="0.7"/>
<polygon points="177.4,850.0 175.1,855.9 171.8,856.0 166.9,851.2 169.2,847.7 174.8,845.8" fill="#9391a1"/>
<polygon points="119.3,643.0 105.8,642.6 103.9,637.8 104.1,629.8 115.9,625.1 122.3,634.7" fill="#aeacbc"/>
<polygon points="115.9,625.1 122.3,634.7 111.6,634.9" fill="#868492" fill-opacity="0.7"/>
<polygon points="183.0,631.3 187.2,635.5 183.6,642.1 181.7,644.7 175.8,641.3 173.5,638.1 175.6,633.0" fill="#9997a7"/>
<polygon points="127.3,703.3 130.7,708.0 130.0,712.1 123.2,712.8 120.7,709.6 122.5,704.7" fill="#a3a1b1"/>
<polygon points="196.1,840.7 202.4,852.6 196.0,858.9 181.8,857.9 177.8,852.4 178.8,845.5 185.7,837.1" fill="#b3b1c1"/>
<polygon points="196.1,840.7 202.4,852.6 189.8,848.6" fill="#7c7a88" fill-opacity="0.7"/>
<polygon points="190.2,869.2 192.4,864.8 196.9,865.8 197.5,871.7 194.4,873.7" fill="#c8c6d6"/>
<polygon points="132.8,865.6 144.6,861.2 148.6,868.1 145.1,880.1 138.8,880.6 129.9,875.8" fill="#dad8e8"/>
<polygon points="161.8,868.2 152.0,871.2 145.2,868.1 144.6,861.4 150.1,858.5 158.5,857.4 162.5,859.8" fill="#aeacbc"/>
<polygon points="150.1,858.5 158.5,857.4 154.5,863.8" fill="#767482" fill-opacity="0.7"/>
<polygon points="208.9,652.0 211.0,657.4 203.8,662.0 198.4,656.4 201.2,650.6" fill="#9492a2"/>
<polygon points="198.4,656.4 201.2,650.6 204.6,655.5" fill="#72707e" fill-opacity="0.7"/>
<polygon points="163.1,610.9 157.8,611.5 151.8,606.4 152.3,602.1 157.6,599.4 165.1,599.2 165.0,606.9" fill="#918f9f"/>
<polygon points="218.3,670.5 217.9,666.2 222.8,663.6 227.8,668.5 223.9,671.6" fill="#a4a2b2"/>
<polygon points="116.8,609.5 117.9,622.2 113.3,627.2 98.7,620.8 101.8,611.9 109.0,606.7" fill="#9a98a8"/>
<polygon points="153.1,651.1 154.0,655.7 150.3,659.3 146.4,659.4 142.7,655.6 145.3,649.1 149.9,648.2" fill="#d3d1e1"/>
<polygon points="142.7,655.6 145.3,649.1 148.6,654.6" fill="#b7b5c3" fill-opacity="0.7"/>
<polygon points="228.3,691.5 229.4,701.0 224.2,703.9 218.9,697.8 223.3,692.9" fill="#b1afbf"/>
<polygon points="218.9,697.8 223.3,692.9 224.8,697.4" fill="#8c8a98" fill-opacity="0.7"/>
<polygon points="114.3,585.1 106.3,583.9 105.8,575.7 112.8,575.2 115.5,577.2" fill="#bab8c8"/>
<polygon points="115.5,577.2 114.3,585.1 111.3,579.2" fill="#878593" fill-opacity="0.7"/>
<polygon points="183.7,611.4 182.1,607.0 184.9,605.5 189.6,605.9 191.1,607.9 190.8,612.2 188.8,614.1" fill="#9492a2"/>
<polygon points="182.1,607.0 184.9,605.5 187.2,609.5" fill="#5c5a68" fill-opacity="0.7"/>
<polygon points="175.6,634.2 175.6,644.1 170.0,650.8 161.9,650.9 151.9,646.3 155.3,635.7 165.5,627.8" fill="#b6b4c4"/>
<polygon points="154.9,870.0 162.0,876.9 158.0,883.9 147.7,882.3 149.0,873.3" fill="#aba9b9"/>
<polygon points="128.3,691.9 132.6,688.0 137.4,690.2 139.0,695.3 134.3,696.7 130.6,696.3" fill="#bab8c8"/>
<polygon points="139.0,695.3 134.3,696.7 133.7,693.1" fill="#82808e" fill-opacity="0.7"/>
<polygon points="129.0,638.3 134.6,631.7 139.2,634.4 140.7,638.8 138.2,644.8 132.4,643.5" fill="#dbd9e9"/>
<polygon points="127.9,836.5 131.6,834.9 137.1,836.4 138.7,841.2 132.4,845.1 129.2,844.9" fill="#9896a6"/>
<polygon points="138.7,841.2 132.4,845.1 132.5,840.2" fill="#5e5c6a" fill-opacity="0.7"/>
<polygon points="108.6,865.6 101.5,859.1 103.0,856.7 109.4,851.8 116.5,851.8 120.0,860.1 113.4,866.1" fill="#a3a1b1"/>
<polygon points="108.6,865.6 101.5,859.1 110.3,858.9" fill="#6d6b79" fill-opacity="0.7"/>
<polygon points="183.6,823.6 174.3,818.5 176.2,813.0 184.3,804.7 192.2,811.0 191.0,821.7" fill="#acaaba"/>
<polygon points="176.2,813.0 184.3,804.7 184.4,815.0" fill="#7b7987" fill-opacity="0.7"/>
<polygon points="216.4,840.3 222.3,851.2 219.3,854.9 211.8,858.5 202.0,855.7 200.3,849.3 208.6,840.9" fill="#9290a0"/>
<polygon points="200.3,849.3 208.6,840.9 211.5,849.9" fill="#5d5b69" fill-opacity="0.7"/>
<polygon points="154.3,773.0 147.1,781.4 141.3,779.7 134.7,771.5 137.7,767.3 147.3,763.3 153.1,768.5" fill="#d9d7e7"/>
<polygon points="181.6,787.3 179.1,782.4 184.8,776.3 190.2,777.2 189.3,786.4" fill="#a09eae"/>
<polygon points="213.4,870.8 214.1,864.5 220.0,862.4 221.9,868.6 218.0,872.6" fill="#bdbbcb"/>
<polygon points="218.0,872.6 213.4,870.8 217.5,868.0" fill="#8d8b99" fill-opacity="0.7"/>
<polygon points="223.1,779.7 218.6,778.2 217.7,775.8 221.2,770.1 224.6,771.6 228.3,774.4 227.4,779.7" fill="#cdcbdb"/>
<polygon points="221.2,770.1 224.6,771.6 223.1,775.3" fill="#aba9b7" fill-opacity="0.7"/>
<polygon points="140.4,854.7 138.1,853.4 134.4,845.9 143.3,838.7 151.0,837.5 152.8,846.0 149.4,857.0" fill="#b7b5c5"/>
<polygon points="158.3,727.3 165.4,726.3 165.8,732.4 161.7,734.7 156.5,730.7" fill="#b6b4c4"/>
<polygon points="204.9,759.1 206.8,751.7 211.9,751.7 215.7,759.3 209.4,760.8" fill="#a6a4b4"/>
<polygon points="204.9,759.1 206.8,751.7 210.4,756.4" fill="#888694" fill-opacity="0.7"/>
<polygon points="113.4,822.2 113.8,835.2 105.6,840.5 94.3,834.2 94.2,828.1 106.5,819.6" fill="#bab8c8"/>
<polygon points="105.6,840.5 94.3,834.2 105.3,830.0" fill="#807e8c" fill-opacity="0.7"/>
<polygon points="106.8,732.4 111.9,729.9 118.7,731.6 118.6,740.0 109.5,741.1" fill="#d1cfdf"/>
<polygon points="161.1,866.5 168.2,867.2 168.5,870.9 167.5,874.2 163.6,876.2 159.9,875.0 159.6,870.2" fill="#d1cfdf"/>
<polygon points="120.6,654.5 125.9,648.3 135.9,651.2 137.0,661.1 130.8,667.6 122.2,666.8 115.8,658.5" fill="#a8a6b6"/>
<polygon points="122.2,666.8 115.8,658.5 128.1,658.4" fill="#777583" fill-opacity="0.7"/>
<polygon points="151.5,813.1 158.2,813.4 161.4,818.9 159.0,822.0 153.3,821.4 150.0,816.1" fill="#a5a3b3"/>
<polygon points="150.0,816.1 151.5,813.1 156.0,817.4" fill="#716f7d" fill-opacity="0.7"/>
<polygon points="208.2,614.1 213.9,612.7 217.4,617.8 215.1,623.4 205.9,621.1" fill="#9795a5"/>
<polygon points="208.2,614.1 213.9,612.7 211.5,618.0" fill="#7b7987" fill-opacity="0.7"/>
<polygon points="172.3,668.8 173.2,674.9 164.7,679.4 157.0,673.3 158.3,665.8 167.5,663.0" fill="#b7b5c5"/>
<polygon points="157.0,673.3 158.3,665.8 164.8,670.0" fill="#8b8997" fill-opacity="0.7"/>
<polygon points="212.4,792.4 211.8,786.8 217.0,785.0 220.6,789.0 218.9,792.9" fill="#cfcddd"/>
<polygon points="134.9,736.1 136.8,729.3 144.0,728.8 149.9,734.0 149.4,742.4 142.5,743.3" fill="#bebccc"/>
<polygon points="186.0,717.8 188.6,713.9 195.1,712.6 196.3,717.7 191.0,723.2" fill="#bbb9c9"/>
<polygon points="191.0,723.2 186.0,717.8 192.0,716.7" fill="#9896a4" fill-opacity="0.7"/>
<polygon points="182.8,762.1 180.1,754.6 189.8,751.1 195.3,756.7 189.6,764.8" fill="#b3b1c1"/>
<polygon points="182.8,762.1 180.1,754.6 187.2,756.9" fill="#7b7987" fill-opacity="0.7"/>
<polygon points="226.1,711.3 218.8,721.5 212.8,724.0 207.4,712.5 204.3,707.2 217.9,702.0 226.4,704.1" fill="#afadbd"/>
<polygon points="212.8,724.0 207.4,712.5 216.3,711.2" fill="#7a7886" fill-opacity="0.7"/>
<polygon points="205.3,681.1 196.7,685.0 191.4,675.8 194.6,668.3 207.4,675.8" fill="#c4c2d2"/>
<polygon points="152.3,740.1 156.2,744.4 155.4,749.8 150.2,752.5 144.9,750.2 141.7,744.4 148.0,739.3" fill="#a8a6b6"/>
<polygon points="141.7,744.4 148.0,739.3 149.8,746.1" fill="#757381" fill-opacity="0.7"/>
<polygon points="182.6,597.9 176.4,596.7 171.9,590.4 178.5,583.3 185.5,586.4 187.5,592.9" fill="#a8a6b6"/>
<polygon points="178.5,583.3 185.5,586.4 180.4,591.5" fill="#716f7d" fill-opacity="0.7"/>
<polygon points="121.3,739.2 128.4,743.8 128.4,753.1 122.1,756.7 114.8,750.7" fill="#c2c0d0"/>
<polygon points="230.7,600.0 228.5,607.1 214.3,604.0 214.3,595.1 226.1,591.3" fill="#8e8c9c"/>
<polygon points="214.3,604.0 214.3,595.1 223.1,598.9" fill="#585664" fill-opacity="0.7"/>
<polygon points="189.6,666.2 185.2,660.7 190.7,654.9 197.1,658.3 194.5,663.6" fill="#9593a3"/>
<polygon points="190.7,654.9 197.1,658.3 190.5,660.8" fill="#696775" fill-opacity="0.7"/>
<polygon points="207.3,690.4 210.3,684.5 218.2,682.8 221.2,688.3 218.3,694.4 214.1,697.5" fill="#b2b0c0"/>
<polygon points="221.2,688.3 218.3,694.4 214.6,689.8" fill="#7d7b89" fill-opacity="0.7"/>
<polygon points="224.5,765.6 217.1,765.1 216.1,759.8 221.0,755.9 226.0,759.7" fill="#d5d3e3"/>
<polygon points="221.0,755.9 226.0,759.7 221.0,761.2" fill="#b7b5c3" fill-opacity="0.7"/>
<polygon points="214.9,637.9 220.0,644.0 217.8,649.5 208.3,649.6 205.4,647.5 205.2,638.6 209.4,637.2" fill="#aba9b9"/>
<polygon points="152.4,693.2 156.4,696.2 153.3,700.9 150.1,701.0 146.3,697.2 148.3,694.3" fill="#bdbbcb"/>
<polygon points="148.3,694.3 152.4,693.2 151.6,697.1" fill="#898795" fill-opacity="0.7"/>
<polygon points="199.7,571.5 205.6,558.0 216.5,557.7 221.4,565.3 217.9,577.2 206.1,574.4" fill="#acaaba"/>
<polygon points="166.8,797.3 161.0,797.0 157.6,791.0 160.4,786.4 164.6,786.5 168.2,791.0" fill="#9391a1"/>
<polygon points="161.0,797.0 157.6,791.0 162.6,791.8" fill="#5c5a68" fill-opacity="0.7"/>
<polygon points="213.7,880.0 205.2,890.2 197.2,887.6 199.9,871.8 210.1,871.5" fill="#a9a7b7"/>
<polygon points="175.8,563.9 183.7,566.2 187.5,573.1 182.8,579.4 178.1,581.6 168.5,578.8 169.6,573.1" fill="#9290a0"/>
<polygon points="106.3,821.0 104.4,808.9 110.5,804.4 119.4,801.1 124.7,814.9 115.7,821.2" fill="#b9b7c7"/>
<polygon points="106.3,821.0 104.4,808.9 112.8,812.0" fill="#83818f" fill-opacity="0.7"/>
<polygon points="111.6,795.6 109.3,799.8 104.0,800.4 102.2,796.6 102.5,793.7 106.8,791.3" fill="#b9b7c7"/>
<polygon points="104.0,800.4 102.2,796.6 106.2,796.4" fill="#868492" fill-opacity="0.7"/>
<polygon points="223.5,796.4 220.6,806.1 216.2,811.5 209.7,811.8 205.0,802.1 204.4,795.3 214.9,791.6" fill="#b4b2c2"/>
<polygon points="214.9,791.6 223.5,796.4 213.5,801.4" fill="#888694" fill-opacity="0.7"/>
<polygon points="109.7,705.7 95.3,695.4 97.0,687.2 108.4,681.3 120.1,689.1 118.2,700.9" fill="#a4a2b2"/>
<polygon points="162.3,619.8 157.4,622.2 152.5,619.0 155.6,613.5 162.4,614.8" fill="#9e9cac"/>
<polygon points="197.6,699.7 188.4,697.8 189.6,685.8 200.8,683.8 206.2,694.4" fill="#d2d0e0"/>
<polygon points="131.4,727.6 130.8,722.0 137.3,721.7 139.5,725.4 138.1,729.0" fill="#bebccc"/>
<polygon points="130.8,722.0 137.3,721.7 135.5,725.3" fill="#9997a5" fill-opacity="0.7"/>
<polygon points="123.6,873.4 118.1,878.1 113.5,878.0 111.4,872.7 118.0,865.5 121.7,867.8" fill="#bab8c8"/>
<polygon points="113.5,878.0 111.4,872.7 118.0,872.8" fill="#8d8b99" fill-opacity="0.7"/>
<polygon points="198.7,560.9 203.7,573.5 195.6,577.1 183.8,577.8 185.1,562.1" fill="#9896a6"/>
<polygon points="203.7,573.5 195.6,577.1 192.3,570.2" fill="#686674" fill-opacity="0.7"/>
<polygon points="122.5,625.0 126.1,623.4 129.8,623.5 130.4,627.8 128.3,630.8 126.7,632.8 120.7,629.1" fill="#8a8898"/>
<polygon points="126.1,623.4 129.8,623.5 126.3,627.6" fill="#5a5866" fill-opacity="0.7"/>
<polygon points="187.1,689.0 169.3,685.2 167.9,671.6 180.8,665.6 188.0,670.2" fill="#cdcbdb"/>
<polygon points="191.0,830.4 188.2,837.1 181.8,835.5 182.3,829.2 187.3,827.1" fill="#9492a2"/>
<polygon points="191.0,830.4 188.2,837.1 186.2,831.7" fill="#6a6876" fill-opacity="0.7"/>
<polygon points="125.8,599.6 129.5,598.0 136.8,603.2 135.1,608.8 127.4,613.3 124.2,611.0 122.0,604.0" fill="#9896a6"/>
<polygon points="136.8,603.2 135.1,608.8 128.5,605.7" fill="#747280" fill-opacity="0.7"/>
<polygon points="175.0,739.2 169.4,741.3 166.1,738.2 164.9,733.1 167.4,727.5 174.6,728.8 177.7,732.5" fill="#cdcbdb"/>
<polygon points="116.9,660.0 113.1,670.2 103.9,665.3 98.0,658.3 99.9,655.0 109.5,650.3 116.8,654.2" fill="#9997a7"/>
<polygon points="122.1,779.8 131.5,788.0 125.9,796.8 121.9,798.4 115.2,793.8 115.8,782.4" fill="#b7b5c5"/>
<polygon points="131.5,788.0 125.9,796.8 121.6,789.4" fill="#8d8b99" fill-opacity="0.7"/>
<polygon points="116.2,721.4 105.1,722.6 100.2,709.5 112.1,702.4 119.5,709.7" fill="#9795a5"/>
<polygon points="176.7,831.4 176.0,841.8 165.6,843.4 159.3,835.9 165.1,824.9" fill="#aba9b9"/>
<polygon points="165.1,824.9 176.7,831.4 169.1,835.1" fill="#7e7c8a" fill-opacity="0.7"/>
<polygon points="133.9,846.6 138.9,857.8 126.5,865.2 119.3,856.1 122.6,846.7" fill="#d7d5e5"/>
<polygon points="225.5,560.4 228.2,560.0 232.3,564.9 229.8,569.2 225.2,568.7 222.2,566.0" fill="#a09eae"/>
<polygon points="138.9,676.0 137.0,668.5 140.0,664.7 148.3,665.6 150.2,671.8 147.1,674.5" fill="#9593a3"/>
<polygon points="140.0,664.7 148.3,665.6 143.9,670.3" fill="#605e6c" fill-opacity="0.7"/>
<polygon points="204.7,731.3 206.6,738.1 202.9,740.0 198.1,742.7 192.2,738.0 190.0,733.1 198.8,726.8" fill="#b5b3c3"/>
<polygon points="190.7,729.4 190.5,740.3 182.6,743.7 174.5,734.6 180.3,726.6" fill="#868494"/>
<polygon points="190.7,729.4 190.5,740.3 184.1,735.9" fill="#5c5a68" fill-opacity="0.7"/>
<polygon points="163.2,630.0 166.1,616.2 171.8,612.3 181.9,618.1 186.7,625.4 179.2,630.6 171.4,632.1" fill="#a2a0b0"/>
<polygon points="171.8,612.3 181.9,618.1 174.1,623.6" fill="#6a6876" fill-opacity="0.7"/>
<polygon points="101.0,560.9 108.4,554.7 119.7,555.0 121.3,568.0 114.4,575.3 101.4,569.8" fill="#d5d3e3"/>
<polygon points="121.3,568.0 114.4,575.3 110.8,563.0" fill="#b5b3c1" fill-opacity="0.7"/>
<polygon points="137.0,568.1 134.9,575.7 126.2,574.1 122.5,570.4 125.9,563.2 133.9,564.9" fill="#9c9aaa"/>
<polygon points="122.9,837.2 123.9,841.4 118.5,843.6 114.4,839.9 116.8,834.7" fill="#a3a1b1"/>
<polygon points="114.4,839.9 116.8,834.7 119.2,838.9" fill="#82808e" fill-opacity="0.7"/>
<polygon points="195.7,656.3 193.2,655.6 190.9,649.5 194.8,646.5 197.9,646.7 201.5,651.0" fill="#a09eae"/>
<polygon points="197.9,646.7 201.5,651.0 195.2,651.4" fill="#6a6876" fill-opacity="0.7"/>
<polygon points="158.5,800.8 165.0,794.5 175.3,801.4 169.2,812.6 159.6,810.7" fill="#a3a1b1"/>
<polygon points="158.5,800.8 165.0,794.5 166.5,803.7" fill="#767482" fill-opacity="0.7"/>
<polygon points="216.8,835.8 221.7,834.2 227.2,838.9 227.9,843.6 222.1,847.0 215.7,845.1 213.6,839.4" fill="#dad8e8"/>
<polygon points="170.5,648.9 172.2,645.1 176.5,643.7 178.9,650.1 177.7,653.8 170.6,653.4" fill="#9290a0"/>
<polygon points="172.2,645.1 176.5,643.7 174.6,649.3" fill="#656371" fill-opacity="0.7"/>
<polygon points="149.6,783.4 150.8,790.6 144.4,795.3 140.2,788.9 143.5,783.6" fill="#9795a5"/>
<polygon points="175.2,599.9 173.3,605.6 164.3,607.3 162.5,601.1 166.6,595.7" fill="#c9c7d7"/>
<polygon points="173.3,605.6 164.3,607.3 169.1,602.5" fill="#9c9aa8" fill-opacity="0.7"/>
<polygon points="177.2,758.5 173.4,765.5 164.9,760.3 161.9,752.0 171.3,745.1 178.4,747.4" fill="#a2a0b0"/>
<polygon points="171.3,745.1 178.4,747.4 171.1,754.3" fill="#7a7886" fill-opacity="0.7"/>
<polygon points="128.5,720.1 128.8,725.6 123.4,730.6 119.4,729.6 116.7,723.0 123.0,719.4" fill="#c4c2d2"/>
<polygon points="154.5,775.4 158.9,770.2 166.0,772.2 166.9,778.7 158.7,782.6" fill="#aaa8b8"/>
<polygon points="154.5,775.4 158.9,770.2 161.7,776.2" fill="#7c7a88" fill-opacity="0.7"/>
<polygon points="105.7,773.3 111.8,774.0 112.1,780.7 108.2,781.4 103.2,776.2" fill="#a8a6b6"/>
<polygon points="198.4,804.7 203.3,804.9 203.3,811.4 199.6,813.3 193.8,811.6" fill="#bbb9c9"/>
<polygon points="198.4,804.7 203.3,804.9 199.4,808.6" fill="#898795" fill-opacity="0.7"/>
<polygon points="196.6,617.3 189.6,609.2 194.6,600.5 204.0,601.4 208.4,610.0" fill="#d0cede"/>
<polygon points="164.7,847.2 158.1,849.7 152.9,843.0 156.4,838.6 163.5,841.8" fill="#afadbd"/>
<polygon points="149.9,827.8 153.9,825.8 155.8,834.2 153.5,839.3 148.8,840.5 143.6,835.4 143.7,831.0" fill="#c7c5d5"/>
<polygon points="119.0,650.4 115.6,641.9 117.6,637.0 127.2,636.1 130.7,644.1 128.7,649.1" fill="#9a98a8"/>
<polygon points="128.6,694.2 122.7,695.7 117.8,694.5 115.9,688.3 117.0,683.5 126.8,682.5 129.6,687.4" fill="#cccada"/>
<polygon points="175.6,721.0 173.4,718.3 175.1,714.5 178.5,711.6 184.3,714.9 182.9,720.1 179.5,722.8" fill="#8f8d9d"/>
<polygon points="173.4,718.3 175.1,714.5 178.9,716.9" fill="#585664" fill-opacity="0.7"/>
<polygon points="148.3,699.8 147.0,709.5 142.8,714.5 133.2,708.3 133.0,700.4 133.2,693.0 147.7,694.5" fill="#c1bfcf"/>
<polygon points="217.8,583.6 218.5,578.2 230.4,577.8 233.4,581.3 230.7,590.4 223.2,590.7" fill="#dad8e8"/>
<polygon points="195.3,700.1 201.2,702.1 199.0,710.4 193.8,710.5 190.2,704.4" fill="#d6d4e4"/>
<polygon points="199.0,710.4 193.8,710.5 195.4,704.6" fill="#9e9caa" fill-opacity="0.7"/>
<polygon points="212.2,839.2 200.9,845.2 190.9,837.8 191.4,827.8 200.1,823.8 207.8,823.3 214.4,830.3" fill="#c8c6d6"/>
<polygon points="166.5,568.7 160.0,572.6 156.4,564.0 162.1,560.7 166.9,564.3" fill="#9492a2"/>
<polygon points="188.9,879.6 178.9,887.3 172.1,884.2 173.8,872.6 186.9,871.4" fill="#8a8898"/>
<polygon points="178.9,887.3 172.1,884.2 179.5,880.1" fill="#5c5a68" fill-opacity="0.7"/>
<polygon points="229.6,727.7 235.8,737.4 233.7,747.3 228.3,751.2 215.0,745.2 215.3,733.8" fill="#c1bfcf"/>
<polygon points="215.3,733.8 229.6,727.7 226.9,739.8" fill="#9b99a7" fill-opacity="0.7"/>
<polygon points="136.5,634.4 134.9,629.3 139.2,624.0 143.5,625.8 143.1,632.7" fill="#cbc9d9"/>
<polygon points="203.3,795.7 195.5,797.1 191.3,787.8 198.9,784.0 203.7,787.9" fill="#8b8999"/>
<polygon points="132.2,680.8 134.7,675.8 140.6,674.9 141.6,677.3 140.6,684.2 135.8,684.5" fill="#9694a4"/>
<polygon points="169.2,769.7 174.9,767.5 181.1,772.6 179.5,779.1 170.7,776.0" fill="#b5b3c3"/>
<polygon points="181.1,772.6 179.5,779.1 175.2,773.0" fill="#7b7987" fill-opacity="0.7"/>
<polygon points="165.6,687.6 158.3,689.6 156.5,681.7 161.3,678.2 166.1,683.7" fill="#c5c3d3"/>
<polygon points="127.4,831.6 121.2,827.4 118.5,824.1 123.0,818.1 130.6,816.9 136.0,825.6" fill="#cccada"/>
<polygon points="136.0,825.6 127.4,831.6 126.5,823.5" fill="#acaab8" fill-opacity="0.7"/>
<polygon points="143.3,723.4 137.8,719.7 138.9,714.2 145.5,714.2 147.0,721.0" fill="#bfbdcd"/>
<polygon points="145.5,714.2 147.0,721.0 142.4,718.0" fill="#8b8997" fill-opacity="0.7"/>
<polygon points="175.8,749.3 173.8,746.7 176.9,743.0 182.7,742.8 184.8,745.7 181.4,749.8" fill="#8a8898"/>
<polygon points="121.6,798.5 125.9,793.7 132.1,797.7 130.6,803.2 125.9,806.4 121.0,802.4" fill="#c2c0d0"/>
<polygon points="121.0,802.4 121.6,798.5 126.3,800.0" fill="#9b99a7" fill-opacity="0.7"/>
<polygon points="225.2,636.1 231.3,637.3 231.8,646.5 225.3,647.8 220.8,640.5" fill="#aeacbc"/>
<polygon points="201.9,778.3 196.1,777.5 193.8,769.9 199.0,766.3 205.5,767.1 204.6,773.3" fill="#cac8d8"/>
<polygon points="172.6,555.8 177.0,559.4 174.4,565.4 168.6,566.1 166.4,559.2" fill="#a7a5b5"/>
<polygon points="156.1,743.9 162.3,741.9 164.6,745.5 163.8,750.8 158.9,750.7" fill="#9d9bab"/>
<polygon points="161.1,728.5 150.0,728.9 148.8,719.3 156.5,715.6 162.5,722.2" fill="#c3c1d1"/>
<polygon points="150.0,728.9 148.8,719.3 155.4,722.3" fill="#9a98a6" fill-opacity="0.7"/>
<polygon points="220.2,872.4 224.4,869.6 227.3,872.4 228.3,877.3 225.8,880.7 220.0,878.0" fill="#b5b3c3"/>
<polygon points="220.0,878.0 220.2,872.4 224.2,875.1" fill="#9795a3" fill-opacity="0.7"/>
<polygon points="152.2,580.0 149.5,584.1 143.5,585.9 141.3,583.3 140.0,575.9 144.0,575.6 150.2,575.9" fill="#adabbb"/>
<polygon points="141.3,583.3 140.0,575.9 146.0,580.2" fill="#83818f" fill-opacity="0.7"/>
<polygon points="170.7,608.7 174.3,603.2 180.5,603.4 184.8,608.2 180.8,615.1 175.9,615.1" fill="#c6c4d4"/>
<polygon points="184.8,608.2 180.8,615.1 178.3,608.7" fill="#9997a5" fill-opacity="0.7"/>
<polygon points="106.6,597.0 108.3,591.4 115.5,590.3 120.9,592.4 120.6,597.7 115.0,602.0 109.9,599.7" fill="#aeacbc"/>
<polygon points="108.3,591.4 115.5,590.3 113.6,595.4" fill="#7c7a88" fill-opacity="0.7"/>
<polygon points="131.7,745.8 136.4,742.2 139.3,740.8 141.5,747.5 139.3,751.8 133.5,751.8" fill="#dad8e8"/>
<polygon points="131.7,745.8 136.4,742.2 136.4,746.4" fill="#b6b4c2" fill-opacity="0.7"/>
<polygon points="183.8,642.6 186.1,634.1 198.7,633.4 200.5,643.6 191.1,648.0" fill="#acaaba"/>
<polygon points="200.5,643.6 191.1,648.0 191.8,639.8" fill="#83818f" fill-opacity="0.7"/>
<polygon points="123.2,772.0 128.3,770.5 133.2,776.8 129.8,780.9 121.9,779.3" fill="#9d9bab"/>
<polygon points="128.3,770.5 133.2,776.8 126.6,775.6" fill="#686674" fill-opacity="0.7"/>
<polygon points="150.7,685.5 145.1,686.7 142.9,686.1 141.4,682.0 144.1,678.8 147.8,678.6 150.6,680.9" fill="#c8c6d6"/>
<polygon points="150.7,685.5 145.1,686.7 145.8,682.7" fill="#a4a2b0" fill-opacity="0.7"/>
<polygon points="201.3,586.0 202.4,595.8 193.9,598.4 185.6,591.5 190.3,584.0" fill="#adabbb"/>
<polygon points="214.1,661.3 211.7,656.6 218.2,653.9 223.3,655.3 224.7,659.4 217.1,664.8" fill="#a5a3b3"/>
<polygon points="142.1,621.6 133.9,612.7 141.6,604.4 149.1,608.0 151.8,618.2" fill="#cbc9d9"/>
<polygon points="163.0,653.0 165.0,659.5 161.6,661.9 157.8,660.6 154.0,656.5 156.9,653.0 161.2,651.6" fill="#c0bece"/>
<polygon points="163.0,653.0 165.0,659.5 159.4,656.7" fill="#9694a2" fill-opacity="0.7"/>
<polygon points="156.4,572.2 156.2,574.9 151.0,574.6 146.7,572.0 147.4,567.0 152.8,565.7 155.7,567.5" fill="#c4c2d2"/>
<polygon points="165.4,814.8 172.1,817.4 174.8,821.2 170.2,827.1 165.2,828.5 160.9,823.2 162.6,815.4" fill="#8d8b9b"/>
<polygon points="160.9,823.2 162.6,815.4 167.5,821.0" fill="#63616f" fill-opacity="0.7"/>
<polygon points="140.3,600.4 141.5,598.2 146.4,592.6 150.8,597.7 150.8,599.7 148.5,604.3 144.1,606.8" fill="#b9b7c7"/>
<polygon points="150.8,599.7 148.5,604.3 145.9,600.0" fill="#9d9ba9" fill-opacity="0.7"/>
<polygon points="158.5,709.5 158.5,712.8 153.9,714.1 148.7,714.4 147.4,708.7 150.0,704.8 155.5,705.8" fill="#9e9cac"/>
<polygon points="143.8,758.3 139.9,757.6 137.6,752.0 139.7,750.0 143.0,748.4 147.8,751.3 146.8,755.6" fill="#d1cfdf"/>
<polygon points="139.9,757.6 137.6,752.0 143.2,752.9" fill="#b0aebc" fill-opacity="0.7"/>
<polygon points="111.3,679.1 111.6,675.0 117.0,672.3 119.3,674.0 120.6,679.8 114.1,681.5" fill="#a9a7b7"/>
<polygon points="119.3,674.0 120.6,679.8 115.6,677.2" fill="#8c8a98" fill-opacity="0.7"/>
<polygon points="188.0,606.4 183.1,604.2 181.3,601.8 183.4,596.9 185.1,595.0 189.8,595.7 191.5,600.2" fill="#cfcddd"/>
<polygon points="182.4,658.0 185.3,666.1 178.8,669.3 174.0,666.2 175.7,659.7" fill="#868494"/>
<polygon points="185.3,666.1 178.8,669.3 179.5,663.7" fill="#5b5967" fill-opacity="0.7"/>
<polygon points="190.3,709.3 184.6,711.1 180.5,708.3 182.9,702.0 188.1,701.4 189.5,705.4" fill="#878595"/>
<polygon points="182.9,702.0 188.1,701.4 185.1,706.2" fill="#5e5c6a" fill-opacity="0.7"/>
<polygon points="211.0,787.0 205.0,787.5 200.3,782.1 203.6,776.2 209.8,775.3 212.7,780.5" fill="#9d9bab"/>
<polygon points="205.0,787.5 200.3,782.1 206.9,782.4" fill="#72707e" fill-opacity="0.7"/>
<polygon points="155.0,633.1 151.0,627.5 151.3,622.2 161.3,623.0 163.8,625.7 161.0,631.8" fill="#9492a2"/>
<polygon points="151.3,622.2 161.3,623.0 156.5,627.5" fill="#706e7c" fill-opacity="0.7"/>
<polygon points="220.0,681.3 213.4,680.8 210.7,676.4 214.1,670.3 219.5,668.8 223.7,675.6" fill="#aaa8b8"/>
<polygon points="195.8,862.9 194.6,859.9 197.5,855.8 202.2,855.7 205.0,860.4 205.4,862.8 200.1,864.9" fill="#9593a3"/>
<polygon points="195.8,862.9 194.6,859.9 200.2,860.3" fill="#787684" fill-opacity="0.7"/>
<polygon points="122.4,672.0 127.0,665.8 134.0,670.9 132.3,679.1 125.9,678.6" fill="#8c8a9a"/>
<polygon points="214.3,740.6 218.6,744.3 220.3,751.8 210.4,753.1 208.0,746.7" fill="#9896a6"/>
<polygon points="217.5,614.7 214.9,609.7 219.7,605.5 225.7,607.0 225.1,615.5" fill="#b4b2c2"/>
<polygon points="217.5,614.7 214.9,609.7 220.6,611.1" fill="#7b7987" fill-opacity="0.7"/>
<polygon points="198.5,638.9 197.3,633.0 203.7,630.3 206.5,632.3 208.1,638.7 205.7,642.5 200.3,642.3" fill="#9795a5"/>
<polygon points="171.8,685.6 174.9,689.0 174.8,693.0 171.5,696.1 165.3,692.7 166.3,688.7" fill="#bbb9c9"/>
<polygon points="171.5,696.1 165.3,692.7 170.9,690.7" fill="#9f9dab" fill-opacity="0.7"/></g><rect x="104" y="561.5" width="123" height="320.5" fill="#000" filter="url(#fo)" opacity="0.28"/><rect x="105.5" y="563" width="120" height="317.5" fill="none" stroke="#abb050" stroke-width="3"/>
<rect x="267.3" y="561.5" width="120.5" height="320.5" fill="#000" filter="url(#f0)"/>
<g clip-path="url(#c0)" filter="url(#blur5)"><ellipse cx="327.3" cy="586.5" rx="75" ry="30" fill="#103a28" fill-opacity="0.45"/><ellipse cx="297.3" cy="631.5" rx="18" ry="12" fill="#3848b8" fill-opacity="0.5"/><ellipse cx="357.3" cy="656.5" rx="15" ry="12" fill="#3848b8" fill-opacity="0.45"/><ellipse cx="337.3" cy="606.5" rx="15" ry="10" fill="#3848b8" fill-opacity="0.4"/><ellipse cx="282.3" cy="681.5" rx="10" ry="15" fill="#3848b8" fill-opacity="0.4"/><ellipse cx="367.3" cy="591.5" rx="12" ry="10" fill="#3848b8" fill-opacity="0.4"/><ellipse cx="372.3" cy="811.5" rx="10" ry="12" fill="#3848b8" fill-opacity="0.35"/><ellipse cx="287.3" cy="791.5" rx="10" ry="10" fill="#3848b8" fill-opacity="0.35"/><ellipse cx="312.3" cy="726.5" rx="35" ry="55" fill="#5cd048" fill-opacity="0.35"/><ellipse cx="352.3" cy="776.5" rx="30" ry="35" fill="#5cd048" fill-opacity="0.3"/><ellipse cx="327.3" cy="861.5" rx="60" ry="25" fill="#0f4a28" fill-opacity="0.35"/><ellipse cx="362.3" cy="701.5" rx="20" ry="25" fill="#145030" fill-opacity="0.3"/></g>
<rect x="415" y="561.5" width="120.5" height="320.5" fill="#000" filter="url(#f1)"/>
<g clip-path="url(#c1)" filter="url(#blur5)"><ellipse cx="475.0" cy="586.5" rx="75" ry="35" fill="#0c1420" fill-opacity="0.35"/><ellipse cx="440.0" cy="681.5" rx="20" ry="28" fill="#5cd048" fill-opacity="0.55"/><ellipse cx="443.0" cy="749.5" rx="15" ry="22" fill="#5cd048" fill-opacity="0.7"/><ellipse cx="496.0" cy="746.5" rx="13" ry="12" fill="#5cd048" fill-opacity="0.6"/><ellipse cx="450.0" cy="835.5" rx="13" ry="15" fill="#5cd048" fill-opacity="0.6"/><ellipse cx="480.0" cy="618.5" rx="18" ry="27" fill="#3aa848" fill-opacity="0.45"/><ellipse cx="512.0" cy="697.5" rx="15" ry="16" fill="#3aa848" fill-opacity="0.45"/><ellipse cx="476.0" cy="623.5" rx="15" ry="11" fill="#3848b8" fill-opacity="0.45"/><ellipse cx="432.0" cy="632.5" rx="10" ry="14" fill="#3848b8" fill-opacity="0.45"/><ellipse cx="527.0" cy="663.5" rx="11" ry="12" fill="#3848b8" fill-opacity="0.45"/><ellipse cx="474.0" cy="767.5" rx="12" ry="11" fill="#3848b8" fill-opacity="0.45"/><ellipse cx="446.0" cy="792.5" rx="9" ry="14" fill="#3848b8" fill-opacity="0.4"/><ellipse cx="485.0" cy="818.5" rx="16" ry="11" fill="#0c1420" fill-opacity="0.4"/><ellipse cx="503.0" cy="853.5" rx="12" ry="11" fill="#3848b8" fill-opacity="0.45"/><ellipse cx="475.0" cy="866.5" rx="60" ry="15" fill="#0c1420" fill-opacity="0.25"/></g>
<g clip-path="url(#c1)" fill="#5fd448" filter="url(#blur1)"><ellipse cx="455.8" cy="627.0" rx="6" ry="8" fill-opacity="0.28"/><ellipse cx="418.0" cy="649.4" rx="4" ry="8" fill-opacity="0.33"/><ellipse cx="473.0" cy="660.6" rx="5" ry="3.5" fill-opacity="0.22" transform="rotate(-20 473.0 660.6)"/><ellipse cx="493.6" cy="695.8" rx="5" ry="6" fill-opacity="0.33"/><ellipse cx="471.3" cy="713.0" rx="3" ry="3" fill-opacity="0.22"/><ellipse cx="486.7" cy="716.5" rx="3" ry="3" fill-opacity="0.22"/><ellipse cx="420.1" cy="727.8" rx="4.5" ry="6.5" fill-opacity="0.44"/><ellipse cx="446.6" cy="734.2" rx="5.5" ry="7" fill-opacity="0.5"/><ellipse cx="436.5" cy="756.0" rx="6.5" ry="10" fill-opacity="0.55" transform="rotate(-25 436.5 756.0)"/><ellipse cx="498.6" cy="745.1" rx="6.5" ry="8" fill-opacity="0.55"/><ellipse cx="506.8" cy="771.6" rx="4.5" ry="4.5" fill-opacity="0.44"/><ellipse cx="473.0" cy="785.3" rx="2" ry="2" fill-opacity="0.28"/><ellipse cx="426.5" cy="807.2" rx="6.5" ry="7" fill-opacity="0.5"/><ellipse cx="423.8" cy="864.6" rx="8" ry="5.5" fill-opacity="0.44"/><ellipse cx="452.0" cy="872.0" rx="2" ry="2" fill-opacity="0.17"/><ellipse cx="511.3" cy="840.9" rx="3.5" ry="3.5" fill-opacity="0.22"/><ellipse cx="483.1" cy="831.8" rx="2" ry="2" fill-opacity="0.22"/><ellipse cx="451.2" cy="668.4" rx="6" ry="6" fill-opacity="0.33"/><ellipse cx="528.6" cy="684.6" rx="6" ry="8" fill-opacity="0.33"/><ellipse cx="510.6" cy="805.2" rx="6" ry="5" fill-opacity="0.28"/><ellipse cx="453.0" cy="832.2" rx="7" ry="10" fill-opacity="0.5" transform="rotate(20 453.0 832.2)"/></g>
<rect x="562" y="561.5" width="120.5" height="320.5" fill="#000" filter="url(#f2)"/>
<g clip-path="url(#c2)" filter="url(#blur5)"><ellipse cx="622.0" cy="573.5" rx="70" ry="15" fill="#0c1420" fill-opacity="0.5"/><ellipse cx="582.0" cy="616.5" rx="22" ry="30" fill="#3aa848" fill-opacity="0.45"/><ellipse cx="632.0" cy="627.5" rx="22" ry="18" fill="#3aa848" fill-opacity="0.25"/><ellipse cx="625.0" cy="706.5" rx="13" ry="15" fill="#3aa848" fill-opacity="0.4"/><ellipse cx="584.0" cy="744.5" rx="16" ry="28" fill="#5cd048" fill-opacity="0.35"/><ellipse cx="657.0" cy="798.5" rx="13" ry="9" fill="#3aa848" fill-opacity="0.4"/><ellipse cx="571.0" cy="849.5" rx="9" ry="11" fill="#3aa848" fill-opacity="0.4"/><ellipse cx="614.0" cy="621.5" rx="13" ry="20" fill="#3848b8" fill-opacity="0.35"/><ellipse cx="581.0" cy="702.5" rx="12" ry="11" fill="#3848b8" fill-opacity="0.35"/><ellipse cx="637.0" cy="666.5" rx="11" ry="11" fill="#3848b8" fill-opacity="0.35"/><ellipse cx="619.0" cy="780.5" rx="11" ry="9" fill="#3848b8" fill-opacity="0.35"/><ellipse cx="645.0" cy="796.5" rx="11" ry="11" fill="#3848b8" fill-opacity="0.3"/><ellipse cx="652.0" cy="853.5" rx="11" ry="11" fill="#3848b8" fill-opacity="0.35"/></g>
<g clip-path="url(#c2)" fill="#5fd448" filter="url(#blur1)"><ellipse cx="602.8" cy="627.0" rx="6" ry="8" fill-opacity="0.3"/><ellipse cx="590.8" cy="626.2" rx="2.5" ry="2.5" fill-opacity="0.3"/><ellipse cx="565.0" cy="649.4" rx="4" ry="8" fill-opacity="1.0"/><ellipse cx="570.1" cy="663.2" rx="2.5" ry="2.5" fill-opacity="0.5"/><ellipse cx="620.0" cy="660.6" rx="5" ry="3.5" fill-opacity="0.6" transform="rotate(-20 620.0 660.6)"/><ellipse cx="649.2" cy="620.2" rx="2" ry="2" fill-opacity="0.3"/><ellipse cx="652.6" cy="640.8" rx="2.5" ry="2.5" fill-opacity="0.3"/><ellipse cx="668.1" cy="644.2" rx="3" ry="3" fill-opacity="0.4"/><ellipse cx="669.0" cy="594.4" rx="3" ry="3" fill-opacity="0.3"/><ellipse cx="640.6" cy="695.8" rx="5" ry="6" fill-opacity="0.6"/><ellipse cx="618.3" cy="713.0" rx="3" ry="3" fill-opacity="0.6"/><ellipse cx="633.7" cy="716.5" rx="3" ry="3" fill-opacity="0.6"/><ellipse cx="567.1" cy="727.8" rx="4.5" ry="6.5" fill-opacity="1.0"/><ellipse cx="593.6" cy="734.2" rx="5.5" ry="7" fill-opacity="1.0"/><ellipse cx="583.5" cy="756.0" rx="6.5" ry="10" fill-opacity="1.0" transform="rotate(-25 583.5 756.0)"/><ellipse cx="645.6" cy="745.1" rx="6.5" ry="8" fill-opacity="1.0"/><ellipse cx="653.8" cy="771.6" rx="4.5" ry="4.5" fill-opacity="1.0"/><ellipse cx="620.0" cy="785.3" rx="2" ry="2" fill-opacity="0.6"/><ellipse cx="573.5" cy="807.2" rx="6.5" ry="7" fill-opacity="1.0"/><ellipse cx="570.8" cy="864.6" rx="8" ry="5.5" fill-opacity="1.0"/><ellipse cx="599.0" cy="872.0" rx="2" ry="2" fill-opacity="0.4"/><ellipse cx="658.3" cy="840.9" rx="3.5" ry="3.5" fill-opacity="0.5"/><ellipse cx="630.1" cy="831.8" rx="2" ry="2" fill-opacity="0.5"/><ellipse cx="598.2" cy="668.4" rx="6" ry="6" fill-opacity="0.8"/><ellipse cx="675.6" cy="684.6" rx="6" ry="8" fill-opacity="0.8"/><ellipse cx="657.6" cy="805.2" rx="6" ry="5" fill-opacity="0.8"/><ellipse cx="600.0" cy="832.2" rx="7" ry="10" fill-opacity="1.0" transform="rotate(20 600.0 832.2)"/></g>
<rect x="707.2" y="561.5" width="120.5" height="320.5" fill="#000" filter="url(#f3)"/>
<g clip-path="url(#c3)" fill="#5fd448" filter="url(#blur1)"><ellipse cx="748.0" cy="627.0" rx="6" ry="8" fill-opacity="1.0"/><ellipse cx="736.0" cy="626.2" rx="2.5" ry="2.5" fill-opacity="0.8"/><ellipse cx="710.2" cy="649.4" rx="4" ry="8" fill-opacity="1.0"/><ellipse cx="715.3" cy="663.2" rx="2.5" ry="2.5" fill-opacity="0.7"/><ellipse cx="765.2" cy="660.6" rx="5" ry="3.5" fill-opacity="0.6" transform="rotate(-20 765.2 660.6)"/><ellipse cx="794.4" cy="620.2" rx="2" ry="2" fill-opacity="0.8"/><ellipse cx="797.8" cy="640.8" rx="2.5" ry="2.5" fill-opacity="0.8"/><ellipse cx="813.3" cy="644.2" rx="3" ry="3" fill-opacity="0.8"/><ellipse cx="814.2" cy="594.4" rx="3" ry="3" fill-opacity="0.8"/><ellipse cx="785.8" cy="695.8" rx="5" ry="6" fill-opacity="1.0"/><ellipse cx="763.5" cy="713.0" rx="3" ry="3" fill-opacity="0.7"/><ellipse cx="778.9" cy="716.5" rx="3" ry="3" fill-opacity="0.7"/><ellipse cx="712.3" cy="727.8" rx="4.5" ry="6.5" fill-opacity="1.0"/><ellipse cx="738.8" cy="734.2" rx="5.5" ry="7" fill-opacity="1.0"/><ellipse cx="728.7" cy="756.0" rx="6.5" ry="10" fill-opacity="1.0" transform="rotate(-25 728.7 756.0)"/><ellipse cx="790.8" cy="745.1" rx="6.5" ry="8" fill-opacity="1.0"/><ellipse cx="799.0" cy="771.6" rx="4.5" ry="4.5" fill-opacity="1.0"/><ellipse cx="765.2" cy="785.3" rx="2" ry="2" fill-opacity="0.7"/><ellipse cx="718.7" cy="807.2" rx="6.5" ry="7" fill-opacity="1.0"/><ellipse cx="716.0" cy="864.6" rx="8" ry="5.5" fill-opacity="1.0"/><ellipse cx="744.2" cy="872.0" rx="2" ry="2" fill-opacity="0.6"/><ellipse cx="803.5" cy="840.9" rx="3.5" ry="3.5" fill-opacity="0.5"/><ellipse cx="775.3" cy="831.8" rx="2" ry="2" fill-opacity="0.7"/><ellipse cx="743.4" cy="668.4" rx="6" ry="6" fill-opacity="0.2"/><ellipse cx="820.8" cy="684.6" rx="6" ry="8" fill-opacity="0.2"/><ellipse cx="802.8" cy="805.2" rx="6" ry="5" fill-opacity="0.1"/><ellipse cx="745.2" cy="832.2" rx="7" ry="10" fill-opacity="0.1" transform="rotate(20 745.2 832.2)"/></g>
<rect x="849" y="561.5" width="120.5" height="320.5" fill="#000" filter="url(#f4)"/>
<g clip-path="url(#c4)" fill="#5fd448" filter="url(#blur1)"><ellipse cx="889.8" cy="627.0" rx="6" ry="8" fill-opacity="0.35"/><ellipse cx="877.8" cy="626.2" rx="2.5" ry="2.5" fill-opacity="0.9"/><ellipse cx="852.0" cy="649.4" rx="4" ry="8" fill-opacity="1.0"/><ellipse cx="857.1" cy="663.2" rx="2.5" ry="2.5" fill-opacity="0.6"/><ellipse cx="907.0" cy="660.6" rx="5" ry="3.5" fill-opacity="0.7" transform="rotate(-20 907.0 660.6)"/><ellipse cx="936.2" cy="620.2" rx="2" ry="2" fill-opacity="0.6"/><ellipse cx="939.6" cy="640.8" rx="2.5" ry="2.5" fill-opacity="0.7"/><ellipse cx="955.1" cy="644.2" rx="3" ry="3" fill-opacity="0.7"/><ellipse cx="956.0" cy="594.4" rx="3" ry="3" fill-opacity="0.8"/><ellipse cx="927.6" cy="695.8" rx="5" ry="6" fill-opacity="1.0"/><ellipse cx="905.3" cy="713.0" rx="3" ry="3" fill-opacity="0.7"/><ellipse cx="920.7" cy="716.5" rx="3" ry="3" fill-opacity="0.6"/><ellipse cx="854.1" cy="727.8" rx="4.5" ry="6.5" fill-opacity="0.8"/><ellipse cx="880.6" cy="734.2" rx="5.5" ry="7" fill-opacity="1.0"/><ellipse cx="870.5" cy="756.0" rx="6.5" ry="10" fill-opacity="1.0" transform="rotate(-25 870.5 756.0)"/><ellipse cx="932.6" cy="745.1" rx="6.5" ry="8" fill-opacity="1.0"/><ellipse cx="940.8" cy="771.6" rx="4.5" ry="4.5" fill-opacity="0.9"/><ellipse cx="907.0" cy="785.3" rx="2" ry="2" fill-opacity="0.7"/><ellipse cx="860.5" cy="807.2" rx="6.5" ry="7" fill-opacity="1.0"/><ellipse cx="857.8" cy="864.6" rx="8" ry="5.5" fill-opacity="0.8"/><ellipse cx="886.0" cy="872.0" rx="2" ry="2" fill-opacity="0.6"/><ellipse cx="945.3" cy="840.9" rx="3.5" ry="3.5" fill-opacity="0.4"/><ellipse cx="917.1" cy="831.8" rx="2" ry="2" fill-opacity="0.7"/></g>
<rect x="990.5" y="561.5" width="120.5" height="320.5" fill="#000" filter="url(#f5)"/>
<g clip-path="url(#c5)" fill="#5fd448" filter="url(#blur1)"><ellipse cx="1031.3" cy="627.0" rx="6" ry="8" fill-opacity="0.25"/><ellipse cx="1019.3" cy="626.2" rx="2.5" ry="2.5" fill-opacity="0.8"/><ellipse cx="993.5" cy="649.4" rx="4" ry="8" fill-opacity="0.5"/><ellipse cx="998.6" cy="663.2" rx="2.5" ry="2.5" fill-opacity="0.5"/><ellipse cx="1048.5" cy="660.6" rx="5" ry="3.5" fill-opacity="0.8" transform="rotate(-20 1048.5 660.6)"/><ellipse cx="1077.7" cy="620.2" rx="2" ry="2" fill-opacity="0.7"/><ellipse cx="1081.1" cy="640.8" rx="2.5" ry="2.5" fill-opacity="0.7"/><ellipse cx="1096.6" cy="644.2" rx="3" ry="3" fill-opacity="0.7"/><ellipse cx="1097.5" cy="594.4" rx="3" ry="3" fill-opacity="0.8"/><ellipse cx="1069.1" cy="695.8" rx="5" ry="6" fill-opacity="1.0"/><ellipse cx="1046.8" cy="713.0" rx="3" ry="3" fill-opacity="0.5"/><ellipse cx="1062.2" cy="716.5" rx="3" ry="3" fill-opacity="0.5"/><ellipse cx="995.6" cy="727.8" rx="4.5" ry="6.5" fill-opacity="0.5"/><ellipse cx="1022.1" cy="734.2" rx="5.5" ry="7" fill-opacity="1.0"/><ellipse cx="1012.0" cy="756.0" rx="6.5" ry="10" fill-opacity="1.0" transform="rotate(-25 1012.0 756.0)"/><ellipse cx="1074.1" cy="745.1" rx="6.5" ry="8" fill-opacity="1.0"/><ellipse cx="1082.3" cy="771.6" rx="4.5" ry="4.5" fill-opacity="0.9"/><ellipse cx="1048.5" cy="785.3" rx="2" ry="2" fill-opacity="0.6"/><ellipse cx="1002.0" cy="807.2" rx="6.5" ry="7" fill-opacity="1.0"/><ellipse cx="999.3" cy="864.6" rx="8" ry="5.5" fill-opacity="0.6"/><ellipse cx="1027.5" cy="872.0" rx="2" ry="2" fill-opacity="0.6"/><ellipse cx="1086.8" cy="840.9" rx="3.5" ry="3.5" fill-opacity="0.3"/><ellipse cx="1058.6" cy="831.8" rx="2" ry="2" fill-opacity="0.7"/></g>
<rect x="1132.5" y="561.5" width="120.5" height="320.5" fill="#000" filter="url(#f6)"/>
<g clip-path="url(#c6)" fill="#5fd448" filter="url(#blur1)"><ellipse cx="1161.3" cy="626.2" rx="2.5" ry="2.5" fill-opacity="0.3"/><ellipse cx="1135.5" cy="649.4" rx="4" ry="8" fill-opacity="0.3"/><ellipse cx="1140.6" cy="663.2" rx="2.5" ry="2.5" fill-opacity="0.3"/><ellipse cx="1190.5" cy="660.6" rx="5" ry="3.5" fill-opacity="0.9" transform="rotate(-20 1190.5 660.6)"/><ellipse cx="1219.7" cy="620.2" rx="2" ry="2" fill-opacity="0.3"/><ellipse cx="1223.1" cy="640.8" rx="2.5" ry="2.5" fill-opacity="0.3"/><ellipse cx="1238.6" cy="644.2" rx="3" ry="3" fill-opacity="0.2"/><ellipse cx="1239.5" cy="594.4" rx="3" ry="3" fill-opacity="0.2"/><ellipse cx="1211.1" cy="695.8" rx="5" ry="6" fill-opacity="0.2"/><ellipse cx="1188.8" cy="713.0" rx="3" ry="3" fill-opacity="0.2"/><ellipse cx="1204.2" cy="716.5" rx="3" ry="3" fill-opacity="0.2"/><ellipse cx="1137.6" cy="727.8" rx="4.5" ry="6.5" fill-opacity="0.3"/><ellipse cx="1164.1" cy="734.2" rx="5.5" ry="7" fill-opacity="0.8"/><ellipse cx="1154.0" cy="756.0" rx="6.5" ry="10" fill-opacity="1.0" transform="rotate(-25 1154.0 756.0)"/><ellipse cx="1216.1" cy="745.1" rx="6.5" ry="8" fill-opacity="0.2"/><ellipse cx="1224.3" cy="771.6" rx="4.5" ry="4.5" fill-opacity="0.2"/><ellipse cx="1190.5" cy="785.3" rx="2" ry="2" fill-opacity="0.3"/><ellipse cx="1144.0" cy="807.2" rx="6.5" ry="7" fill-opacity="0.8"/><ellipse cx="1141.3" cy="864.6" rx="8" ry="5.5" fill-opacity="0.3"/><ellipse cx="1169.5" cy="872.0" rx="2" ry="2" fill-opacity="0.4"/><ellipse cx="1228.8" cy="840.9" rx="3.5" ry="3.5" fill-opacity="0.2"/><ellipse cx="1200.6" cy="831.8" rx="2" ry="2" fill-opacity="0.7"/><ellipse cx="1211.4" cy="879.0" rx="6" ry="4" fill-opacity="0.9"/></g>
<rect x="485.5" y="674" width="9.5" height="12" fill="none" stroke="#b8e0a8" stroke-width="1" stroke-opacity="0.8"/>
<rect x="635.8" y="679.5" width="7.5" height="8.5" fill="none" stroke="#e8f0e0" stroke-width="1"/>
<line x1="115.5" y1="836" x2="152.7" y2="836" stroke="#e32a30" stroke-width="4.5"/>
<rect x="325" y="897.7" width="24.5" height="23.9" fill="#2e8b48"/>
<rect x="684.2" y="897.7" width="24.6" height="23.9" fill="#222"/>
<rect x="1004.1" y="897.7" width="24.7" height="24.3" fill="#3f52a4"/>
<line x1="481.9" y1="925.6" x2="631.9" y2="925.6" stroke="#3a9a55" stroke-width="1.8"/>
<text x="26.06" y="51" font-size="35" fill="#333" stroke="#333" stroke-width="0.6" textLength="38.99" lengthAdjust="spacingAndGlyphs">(a)</text>
<text x="23.29" y="527.4" font-size="34" fill="#333" stroke="#333" stroke-width="0.6" textLength="39.66" lengthAdjust="spacingAndGlyphs">(b)</text>
<text x="466.40" y="70.6" font-size="31.5" fill="#2e8b48" stroke="#2e8b48" stroke-width="0.8">:</text>
<text x="484.16" y="70.6" font-size="31.5" fill="#2e8b48" stroke="#2e8b48" stroke-width="0.8" textLength="85.26" lengthAdjust="spacingAndGlyphs">LiCoO</text>
<text x="570.40" y="78.2" font-size="20.5" fill="#2e8b48" stroke="#2e8b48" stroke-width="0.8">2</text>
<text x="466.40" y="114.4" font-size="31.5" fill="#3f52a4" stroke="#3f52a4" stroke-width="0.8">:</text>
<text x="483.57" y="114.4" font-size="32" fill="#3f52a4" stroke="#3f52a4" stroke-width="0.8" textLength="103.25" lengthAdjust="spacingAndGlyphs">carbon</text>
<text x="355.79" y="445.9" font-size="21" fill="#444" font-weight="bold" textLength="113.81" lengthAdjust="spacingAndGlyphs">Wavenumber</text>
<text x="479.50" y="445.9" font-size="21" fill="#555">/</text>
<text x="493.76" y="445.9" font-size="21" fill="#444" font-weight="bold" textLength="22.42" lengthAdjust="spacingAndGlyphs">cm</text>
<text x="518.30" y="433.4" font-size="14" fill="#444" font-weight="bold">−1</text>
<text x="355.10" y="920.9" font-size="29" fill="#3a9a55" stroke="#3a9a55" stroke-width="0.5">:</text>
<text x="370.75" y="920.9" font-size="29" fill="#3a9a55" stroke="#3a9a55" stroke-width="0.5" textLength="80.50" lengthAdjust="spacingAndGlyphs">LiCoO</text>
<text x="451.40" y="929.4" font-size="21" fill="#3a9a55" stroke="#3a9a55" stroke-width="0.5">2</text>
<text x="471.96" y="920.9" font-size="29" fill="#3a9a55" stroke="#3a9a55" stroke-width="0.5" textLength="168.87" lengthAdjust="spacingAndGlyphs">(discharged)</text>
<text x="714.20" y="920.9" font-size="29" fill="#333" stroke="#333" stroke-width="0.5">:</text>
<text x="730.13" y="920.9" font-size="29" fill="#333" stroke="#333" stroke-width="0.5" textLength="81.30" lengthAdjust="spacingAndGlyphs">LiCoO</text>
<text x="810.60" y="929.4" font-size="21" fill="#333" stroke="#333" stroke-width="0.5">2</text>
<text x="829.97" y="920.9" font-size="29" fill="#333" stroke="#333" stroke-width="0.5" textLength="131.66" lengthAdjust="spacingAndGlyphs">(charged)</text>
<text x="1034.00" y="920.9" font-size="29" fill="#4a55a8" stroke="#4a55a8" stroke-width="0.5">:</text>
<text x="1050.17" y="920.9" font-size="29" fill="#4a55a8" stroke="#4a55a8" stroke-width="0.5" textLength="96.06" lengthAdjust="spacingAndGlyphs">carbon</text>
<text x="116.97" y="870" font-size="28.5" fill="#e03030" stroke="#e03030" stroke-width="0.5" textLength="79.04" lengthAdjust="spacingAndGlyphs">20 μm</text>
<text x="283.01" y="544.9" font-size="31" fill="#2a2a2a" stroke="#2a2a2a" stroke-width="0.55" textLength="86.51" lengthAdjust="spacingAndGlyphs">3.50 V</text>
<text x="432.51" y="544.9" font-size="31" fill="#2a2a2a" stroke="#2a2a2a" stroke-width="0.55" textLength="86.50" lengthAdjust="spacingAndGlyphs">3.94 V</text>
<text x="576.01" y="544.9" font-size="31" fill="#2a2a2a" stroke="#2a2a2a" stroke-width="0.55" textLength="86.51" lengthAdjust="spacingAndGlyphs">3.97 V</text>
<text x="720.51" y="544.9" font-size="31" fill="#2a2a2a" stroke="#2a2a2a" stroke-width="0.55" textLength="85.98" lengthAdjust="spacingAndGlyphs">4.03 V</text>
<text x="864.47" y="544.9" font-size="31" fill="#2a2a2a" stroke="#2a2a2a" stroke-width="0.55" textLength="85.55" lengthAdjust="spacingAndGlyphs">4.14 V</text>
<text x="1010.02" y="544.9" font-size="31" fill="#2a2a2a" stroke="#2a2a2a" stroke-width="0.55" textLength="86.25" lengthAdjust="spacingAndGlyphs">4.32 V</text>
<text x="1153.76" y="544.9" font-size="31" fill="#2a2a2a" stroke="#2a2a2a" stroke-width="0.55" textLength="77.52" lengthAdjust="spacingAndGlyphs">4.40V</text>
</svg>
</body></html>
